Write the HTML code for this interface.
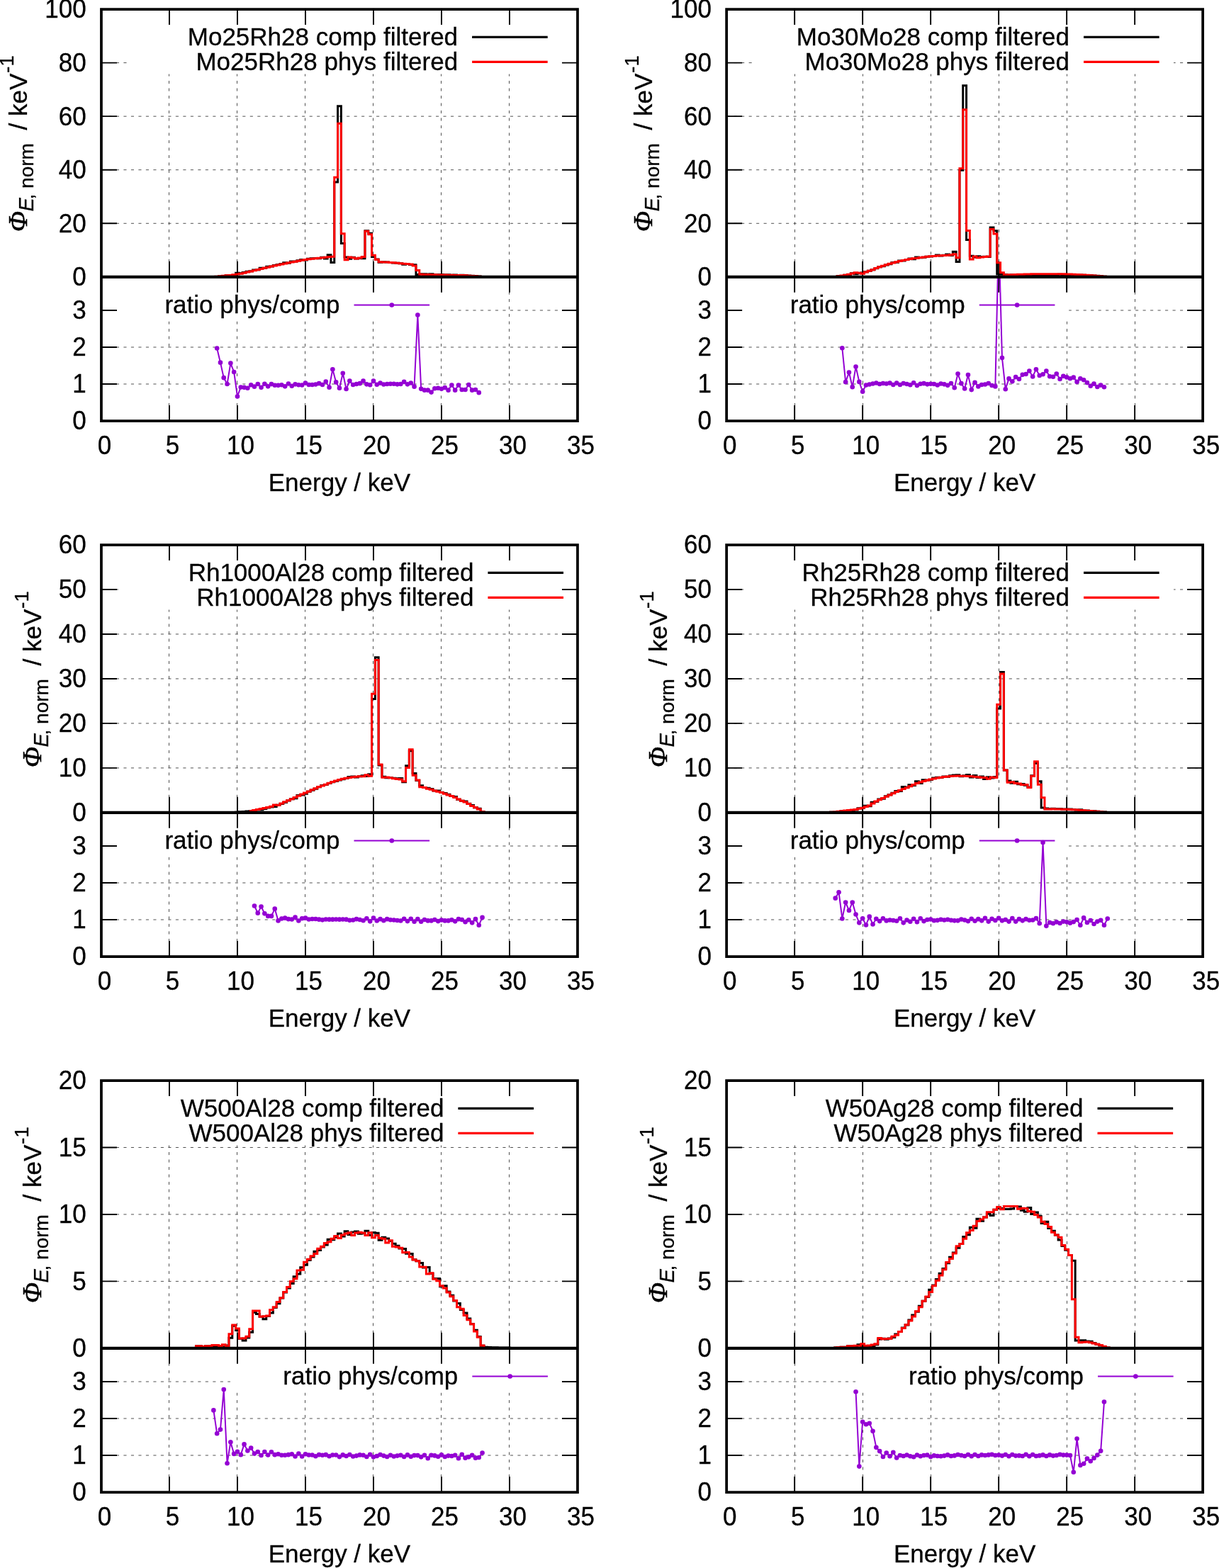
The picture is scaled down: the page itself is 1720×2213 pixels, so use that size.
<!DOCTYPE html>
<html lang="en">
<head>
<meta charset="utf-8">
<title>X-ray spectra: computed vs. physical filtering</title>
<style>html,body{margin:0;padding:0;background:#fff;}body{width:1720px;height:2213px;overflow:hidden;}svg{display:block;}</style>
</head>
<body>
<svg width="1720" height="2213" viewBox="0 0 1720 2213">
<rect width="1720" height="2213" fill="#fff"/>
<g id="p0">
<path d="M238.5,390.85 V13.04 M238.5,594 V390.85 M334.5,390.85 V13.04 M334.5,594 V390.85 M430.5,390.85 V13.04 M430.5,594 V390.85 M526.5,390.85 V13.04 M526.5,594 V390.85 M622.5,390.85 V13.04 M622.5,594 V390.85 M718.5,390.85 V13.04 M718.5,594 V390.85 M142.95,315.29 H814.95 M142.95,239.73 H814.95 M142.95,164.16 H814.95 M142.95,88.6 H814.95 M142.95,542 H814.95 M142.95,490 H814.95 M142.95,438 H814.95" fill="none" stroke="#3c3c3c" stroke-width="0.9" stroke-dasharray="4.1 6.39"/>
<rect x="179.95" y="15.04" width="613.15" height="89.5" fill="#fff"/>
<rect x="158.95" y="392.85" width="467" height="60.7" fill="#fff"/>
<path d="M238.95,13.04 v22 M238.95,368.85 v44 M238.95,594 v-22 M334.95,13.04 v22 M334.95,368.85 v44 M334.95,594 v-22 M430.95,13.04 v22 M430.95,368.85 v44 M430.95,594 v-22 M526.95,13.04 v22 M526.95,368.85 v44 M526.95,594 v-22 M622.95,13.04 v22 M622.95,368.85 v44 M622.95,594 v-22 M718.95,13.04 v22 M718.95,368.85 v44 M718.95,594 v-22 M142.95,315.29 h22 M814.95,315.29 h-22 M142.95,239.73 h22 M814.95,239.73 h-22 M142.95,164.16 h22 M814.95,164.16 h-22 M142.95,88.6 h22 M814.95,88.6 h-22 M142.95,542 h22 M814.95,542 h-22 M142.95,490 h22 M814.95,490 h-22 M142.95,438 h22 M814.95,438 h-22" fill="none" stroke="#000" stroke-width="1.9"/>
<clipPath id="cm0"><rect x="142.95" y="13.04" width="672" height="379.31"/></clipPath>
<g clip-path="url(#cm0)" fill="none" stroke-width="3" stroke-linejoin="miter">
<path d="M274.95,390.85 L279.75,390.85 L279.75,390.82 L284.55,390.82 L284.55,390.8 L289.35,390.8 L289.35,390.77 L294.15,390.77 L294.15,390.66 L298.95,390.66 L298.95,390.47 L303.75,390.47 L303.75,390.56 L308.55,390.56 L308.55,390.19 L313.35,390.19 L313.35,389.56 L318.15,389.56 L318.15,388.87 L322.95,388.87 L322.95,389.28 L327.75,389.28 L327.75,388.5 L332.55,388.5 L332.55,385.16 L337.35,385.16 L337.35,385.68 L342.15,385.68 L342.15,384.6 L346.95,384.6 L346.95,383.21 L351.75,383.21 L351.75,382.71 L356.55,382.71 L356.55,381.1 L361.35,381.1 L361.35,380.65 L366.15,380.65 L366.15,378.25 L370.95,378.25 L370.95,378.26 L375.75,378.26 L375.75,376.22 L380.55,376.22 L380.55,376.09 L385.35,376.09 L385.35,374.52 L390.15,374.52 L390.15,373.41 L394.95,373.41 L394.95,372.54 L399.75,372.54 L399.75,370.67 L404.55,370.67 L404.55,371.21 L409.35,371.21 L409.35,368.93 L414.15,368.93 L414.15,368.97 L418.95,368.97 L418.95,367.65 L423.75,367.65 L423.75,366.6 L428.55,366.6 L428.55,367.12 L433.35,367.12 L433.35,365.31 L438.15,365.31 L438.15,364.63 L442.95,364.63 L442.95,364.42 L447.75,364.42 L447.75,364.63 L452.55,364.63 L452.55,363.19 L457.35,363.19 L457.35,364.98 L462.15,364.98 L462.15,359.71 L466.95,359.71 L466.95,370.47 L471.75,370.47 L471.75,257 L476.55,257 L476.55,149.81 L481.35,149.81 L481.35,343.51 L486.15,343.51 L486.15,363.08 L490.95,363.08 L490.95,365.23 L495.75,365.23 L495.75,363.28 L500.55,363.28 L500.55,364.97 L505.35,364.97 L505.35,364.45 L510.15,364.45 L510.15,364.71 L514.95,364.71 L514.95,325.79 L519.75,325.79 L519.75,329.37 L524.55,329.37 L524.55,362.62 L529.35,362.62 L529.35,365.94 L534.15,365.94 L534.15,370.25 L538.95,370.25 L538.95,369.65 L543.75,369.65 L543.75,370.07 L548.55,370.07 L548.55,370.55 L553.35,370.55 L553.35,370.92 L558.15,370.92 L558.15,371.16 L562.95,371.16 L562.95,371.77 L567.75,371.77 L567.75,373.21 L572.55,373.21 L572.55,372.4 L577.35,372.4 L577.35,373.61 L582.15,373.61 L582.15,373.79 L586.95,373.79 L586.95,387.56 L591.75,387.56 L591.75,386.85 L596.55,386.85 L596.55,386.81 L601.35,386.81 L601.35,386.94 L606.15,386.94 L606.15,386.79 L610.95,386.79 L610.95,387.39 L615.75,387.39 L615.75,387.54 L620.55,387.54 L620.55,387.59 L625.35,387.59 L625.35,387.81 L630.15,387.81 L630.15,387.68 L634.95,387.68 L634.95,388.22 L639.75,388.22 L639.75,387.91 L644.55,387.91 L644.55,388.42 L649.35,388.42 L649.35,388.17 L654.15,388.17 L654.15,388.5 L658.95,388.5 L658.95,389.12 L663.75,389.12 L663.75,389.15 L668.55,389.15 L668.55,389.51 L673.35,389.51 L673.35,389.99 L678.15,389.99 L678.15,390.66 L682.95,390.66 L682.95,390.85 L687.75,390.85" stroke="#000"/>
<path d="M274.95,390.85 L279.75,390.85 L279.75,390.82 L284.55,390.82 L284.55,390.8 L289.35,390.8 L289.35,390.77 L294.15,390.77 L294.15,390.66 L298.95,390.66 L298.95,390.47 L303.75,390.47 L303.75,390.28 L308.55,390.28 L308.55,389.81 L313.35,389.81 L313.35,389.34 L318.15,389.34 L318.15,388.87 L322.95,388.87 L322.95,388.39 L327.75,388.39 L327.75,387.73 L332.55,387.73 L332.55,387.07 L337.35,387.07 L337.35,386.13 L342.15,386.13 L342.15,385.18 L346.95,385.18 L346.95,384.05 L351.75,384.05 L351.75,382.92 L356.55,382.92 L356.55,381.78 L361.35,381.78 L361.35,380.65 L366.15,380.65 L366.15,379.42 L370.95,379.42 L370.95,378.19 L375.75,378.19 L375.75,377.15 L380.55,377.15 L380.55,376.12 L385.35,376.12 L385.35,375.08 L390.15,375.08 L390.15,374.04 L394.95,374.04 L394.95,373 L399.75,373 L399.75,371.96 L404.55,371.96 L404.55,371.01 L409.35,371.01 L409.35,370.07 L414.15,370.07 L414.15,369.13 L418.95,369.13 L418.95,368.18 L423.75,368.18 L423.75,367.33 L428.55,367.33 L428.55,366.48 L433.35,366.48 L433.35,365.82 L438.15,365.82 L438.15,365.16 L442.95,365.16 L442.95,364.69 L447.75,364.69 L447.75,364.21 L452.55,364.21 L452.55,363.74 L457.35,363.74 L457.35,363.27 L462.15,363.27 L462.15,362.51 L466.95,362.51 L466.95,362.33 L471.75,362.33 L471.75,250.3 L476.55,250.3 L476.55,174.36 L481.35,174.36 L481.35,329.64 L486.15,329.64 L486.15,366.86 L490.95,366.86 L490.95,363.08 L495.75,363.08 L495.75,363.84 L500.55,363.84 L500.55,364.97 L505.35,364.97 L505.35,364.03 L510.15,364.03 L510.15,362.51 L514.95,362.51 L514.95,326.24 L519.75,326.24 L519.75,330.78 L524.55,330.78 L524.55,360.25 L529.35,360.25 L529.35,366.29 L534.15,366.29 L534.15,369.69 L538.95,369.69 L538.95,369.88 L543.75,369.88 L543.75,370.07 L548.55,370.07 L548.55,370.45 L553.35,370.45 L553.35,370.83 L558.15,370.83 L558.15,371.3 L562.95,371.3 L562.95,371.77 L567.75,371.77 L567.75,372.15 L572.55,372.15 L572.55,372.53 L577.35,372.53 L577.35,373.09 L582.15,373.09 L582.15,374.98 L586.95,374.98 L586.95,381.4 L591.75,381.4 L591.75,387.37 L596.55,387.37 L596.55,387.48 L601.35,387.48 L601.35,387.59 L606.15,387.59 L606.15,387.7 L610.95,387.7 L610.95,387.8 L615.75,387.8 L615.75,387.91 L620.55,387.91 L620.55,388.02 L625.35,388.02 L625.35,388.11 L630.15,388.11 L630.15,388.21 L634.95,388.21 L634.95,388.3 L639.75,388.3 L639.75,388.39 L644.55,388.39 L644.55,388.49 L649.35,388.49 L649.35,388.58 L654.15,388.58 L654.15,388.87 L658.95,388.87 L658.95,389.15 L663.75,389.15 L663.75,389.43 L668.55,389.43 L668.55,389.72 L673.35,389.72 L673.35,390.19 L678.15,390.19 L678.15,390.66 L682.95,390.66 L682.95,390.85 L687.75,390.85" stroke="#ff0000"/>
</g>
<g font-family='"Liberation Sans", sans-serif' font-size="35" fill="#000" stroke="#000" stroke-width="0.3">
<text x="646.1" y="64.04" text-anchor="end">Mo25Rh28 comp filtered</text>
<text x="646.1" y="99.04" text-anchor="end">Mo25Rh28 phys filtered</text>
</g>
<path d="M666.1,52.44 H772.7" stroke="#000" stroke-width="3.3"/>
<path d="M666.1,87.44 H772.7" stroke="#ff0000" stroke-width="3.3"/>
<g font-family='"Liberation Sans", sans-serif' font-size="35" fill="#000" stroke="#000" stroke-width="0.3"><text x="479.5" y="442.15" text-anchor="end">ratio phys/comp</text></g>
<path d="M499.5,430.55 H606.1" stroke="#9400d3" stroke-width="2.0"/>
<circle cx="552.8" cy="430.55" r="3.3" fill="#9400d3"/>
<clipPath id="cr0"><rect x="142.95" y="390.85" width="672" height="203.15"/></clipPath>
<g clip-path="url(#cr0)">
<path d="M306.15,491.56 L310.95,511.63 L315.75,533.16 L320.55,542 L325.35,512.57 L330.15,525 L334.95,559.47 L339.75,546.47 L344.55,546.84 L349.35,547.72 L354.15,543.3 L358.95,545.64 L363.75,542 L368.55,546.84 L373.35,541.74 L378.15,545.33 L382.95,542.1 L387.75,543.77 L392.55,543.87 L397.35,543.3 L402.15,545.33 L406.95,541.48 L411.75,544.7 L416.55,542.36 L421.35,543.2 L426.15,543.56 L430.95,540.6 L435.75,543.04 L440.55,543.04 L445.35,542.52 L450.15,541.17 L454.95,543.04 L459.75,538.57 L464.55,546.68 L469.35,521.2 L474.15,539.4 L478.95,547.72 L483.75,526.76 L488.55,549.07 L493.35,537.63 L498.15,543.04 L502.95,542 L507.75,541.17 L512.55,537.63 L517.35,542.36 L522.15,543.2 L526.95,537.63 L531.75,542.73 L536.55,540.6 L541.35,542.57 L546.15,542 L550.95,541.74 L555.75,541.74 L560.55,542.36 L565.35,542 L570.15,538.88 L574.95,542.36 L579.75,540.44 L584.55,545.64 L589.35,444.6 L594.15,548.86 L598.95,550.63 L603.75,550.63 L608.55,553.6 L613.35,548.24 L618.15,547.72 L622.95,548.86 L627.75,547.1 L632.55,550.63 L637.35,543.56 L642.15,550.63 L646.95,543.56 L651.75,550.06 L656.55,550.06 L661.35,543.04 L666.15,550.63 L670.95,550.06 L675.75,554.17" fill="none" stroke="#9400d3" stroke-width="2.0" stroke-linejoin="round"/>
<g fill="#9400d3"><circle cx="306.15" cy="491.56" r="3.3"/><circle cx="310.95" cy="511.63" r="3.3"/><circle cx="315.75" cy="533.16" r="3.3"/><circle cx="320.55" cy="542" r="3.3"/><circle cx="325.35" cy="512.57" r="3.3"/><circle cx="330.15" cy="525" r="3.3"/><circle cx="334.95" cy="559.47" r="3.3"/><circle cx="339.75" cy="546.47" r="3.3"/><circle cx="344.55" cy="546.84" r="3.3"/><circle cx="349.35" cy="547.72" r="3.3"/><circle cx="354.15" cy="543.3" r="3.3"/><circle cx="358.95" cy="545.64" r="3.3"/><circle cx="363.75" cy="542" r="3.3"/><circle cx="368.55" cy="546.84" r="3.3"/><circle cx="373.35" cy="541.74" r="3.3"/><circle cx="378.15" cy="545.33" r="3.3"/><circle cx="382.95" cy="542.1" r="3.3"/><circle cx="387.75" cy="543.77" r="3.3"/><circle cx="392.55" cy="543.87" r="3.3"/><circle cx="397.35" cy="543.3" r="3.3"/><circle cx="402.15" cy="545.33" r="3.3"/><circle cx="406.95" cy="541.48" r="3.3"/><circle cx="411.75" cy="544.7" r="3.3"/><circle cx="416.55" cy="542.36" r="3.3"/><circle cx="421.35" cy="543.2" r="3.3"/><circle cx="426.15" cy="543.56" r="3.3"/><circle cx="430.95" cy="540.6" r="3.3"/><circle cx="435.75" cy="543.04" r="3.3"/><circle cx="440.55" cy="543.04" r="3.3"/><circle cx="445.35" cy="542.52" r="3.3"/><circle cx="450.15" cy="541.17" r="3.3"/><circle cx="454.95" cy="543.04" r="3.3"/><circle cx="459.75" cy="538.57" r="3.3"/><circle cx="464.55" cy="546.68" r="3.3"/><circle cx="469.35" cy="521.2" r="3.3"/><circle cx="474.15" cy="539.4" r="3.3"/><circle cx="478.95" cy="547.72" r="3.3"/><circle cx="483.75" cy="526.76" r="3.3"/><circle cx="488.55" cy="549.07" r="3.3"/><circle cx="493.35" cy="537.63" r="3.3"/><circle cx="498.15" cy="543.04" r="3.3"/><circle cx="502.95" cy="542" r="3.3"/><circle cx="507.75" cy="541.17" r="3.3"/><circle cx="512.55" cy="537.63" r="3.3"/><circle cx="517.35" cy="542.36" r="3.3"/><circle cx="522.15" cy="543.2" r="3.3"/><circle cx="526.95" cy="537.63" r="3.3"/><circle cx="531.75" cy="542.73" r="3.3"/><circle cx="536.55" cy="540.6" r="3.3"/><circle cx="541.35" cy="542.57" r="3.3"/><circle cx="546.15" cy="542" r="3.3"/><circle cx="550.95" cy="541.74" r="3.3"/><circle cx="555.75" cy="541.74" r="3.3"/><circle cx="560.55" cy="542.36" r="3.3"/><circle cx="565.35" cy="542" r="3.3"/><circle cx="570.15" cy="538.88" r="3.3"/><circle cx="574.95" cy="542.36" r="3.3"/><circle cx="579.75" cy="540.44" r="3.3"/><circle cx="584.55" cy="545.64" r="3.3"/><circle cx="589.35" cy="444.6" r="3.3"/><circle cx="594.15" cy="548.86" r="3.3"/><circle cx="598.95" cy="550.63" r="3.3"/><circle cx="603.75" cy="550.63" r="3.3"/><circle cx="608.55" cy="553.6" r="3.3"/><circle cx="613.35" cy="548.24" r="3.3"/><circle cx="618.15" cy="547.72" r="3.3"/><circle cx="622.95" cy="548.86" r="3.3"/><circle cx="627.75" cy="547.1" r="3.3"/><circle cx="632.55" cy="550.63" r="3.3"/><circle cx="637.35" cy="543.56" r="3.3"/><circle cx="642.15" cy="550.63" r="3.3"/><circle cx="646.95" cy="543.56" r="3.3"/><circle cx="651.75" cy="550.06" r="3.3"/><circle cx="656.55" cy="550.06" r="3.3"/><circle cx="661.35" cy="543.04" r="3.3"/><circle cx="666.15" cy="550.63" r="3.3"/><circle cx="670.95" cy="550.06" r="3.3"/><circle cx="675.75" cy="554.17" r="3.3"/></g>
</g>
<path d="M142.95,13.04 H814.95 V594 H142.95 Z" fill="none" stroke="#000" stroke-width="3.75" stroke-linejoin="miter"/>
<path d="M142.95,390.85 H814.95" fill="none" stroke="#000" stroke-width="4.2"/>
<g font-family='"Liberation Sans", sans-serif' font-size="35" fill="#000" stroke="#000" stroke-width="0.3">
<text transform="translate(121.75 403.3) scale(1 1.05)" text-anchor="end">0</text>
<text transform="translate(121.75 327.74) scale(1 1.05)" text-anchor="end">20</text>
<text transform="translate(121.75 252.18) scale(1 1.05)" text-anchor="end">40</text>
<text transform="translate(121.75 176.61) scale(1 1.05)" text-anchor="end">60</text>
<text transform="translate(121.75 101.05) scale(1 1.05)" text-anchor="end">80</text>
<text transform="translate(121.75 25.49) scale(1 1.05)" text-anchor="end">100</text>
<text transform="translate(121.75 606.45) scale(1 1.05)" text-anchor="end">0</text>
<text transform="translate(121.75 554.45) scale(1 1.05)" text-anchor="end">1</text>
<text transform="translate(121.75 502.45) scale(1 1.05)" text-anchor="end">2</text>
<text transform="translate(121.75 450.45) scale(1 1.05)" text-anchor="end">3</text>
<text transform="translate(147.55 641.1) scale(1 1.05)" text-anchor="middle">0</text>
<text transform="translate(243.55 641.1) scale(1 1.05)" text-anchor="middle">5</text>
<text transform="translate(339.55 641.1) scale(1 1.05)" text-anchor="middle">10</text>
<text transform="translate(435.55 641.1) scale(1 1.05)" text-anchor="middle">15</text>
<text transform="translate(531.55 641.1) scale(1 1.05)" text-anchor="middle">20</text>
<text transform="translate(627.55 641.1) scale(1 1.05)" text-anchor="middle">25</text>
<text transform="translate(723.55 641.1) scale(1 1.05)" text-anchor="middle">30</text>
<text transform="translate(819.55 641.1) scale(1 1.05)" text-anchor="middle">35</text>
<text x="478.95" y="693.15" text-anchor="middle">Energy / keV</text>
</g>
<text transform="translate(37.55,326.95) rotate(-90)" font-family='"Liberation Sans", sans-serif' font-size="35" fill="#000" stroke="#000" stroke-width="0.3"><tspan font-family='"Liberation Serif", serif' font-style="italic" font-size="38" stroke-width="0.6">Φ</tspan><tspan font-style="italic" font-size="29" dy="9.9" dx="-0.4">E</tspan><tspan font-size="28" dx="-2.4">, norm</tspan><tspan dy="-9.9" dx="9"> / keV</tspan><tspan font-size="28" dy="-18.8" dx="0.6">-1</tspan></text>
</g>
<g id="p1">
<path d="M1121.5,390.85 V13.04 M1121.5,594 V390.85 M1217.5,390.85 V13.04 M1217.5,594 V390.85 M1313.5,390.85 V13.04 M1313.5,594 V390.85 M1409.5,390.85 V13.04 M1409.5,594 V390.85 M1505.5,390.85 V13.04 M1505.5,594 V390.85 M1601.5,390.85 V13.04 M1601.5,594 V390.85 M1025.15,315.29 H1697.15 M1025.15,239.73 H1697.15 M1025.15,164.16 H1697.15 M1025.15,88.6 H1697.15 M1025.15,542 H1697.15 M1025.15,490 H1697.15 M1025.15,438 H1697.15" fill="none" stroke="#3c3c3c" stroke-width="0.9" stroke-dasharray="4.1 6.39"/>
<rect x="1062.15" y="15.04" width="593.9" height="89.5" fill="#fff"/>
<rect x="1041.15" y="392.85" width="467" height="60.7" fill="#fff"/>
<path d="M1121.15,13.04 v22 M1121.15,368.85 v44 M1121.15,594 v-22 M1217.15,13.04 v22 M1217.15,368.85 v44 M1217.15,594 v-22 M1313.15,13.04 v22 M1313.15,368.85 v44 M1313.15,594 v-22 M1409.15,13.04 v22 M1409.15,368.85 v44 M1409.15,594 v-22 M1505.15,13.04 v22 M1505.15,368.85 v44 M1505.15,594 v-22 M1601.15,13.04 v22 M1601.15,368.85 v44 M1601.15,594 v-22 M1025.15,315.29 h22 M1697.15,315.29 h-22 M1025.15,239.73 h22 M1697.15,239.73 h-22 M1025.15,164.16 h22 M1697.15,164.16 h-22 M1025.15,88.6 h22 M1697.15,88.6 h-22 M1025.15,542 h22 M1697.15,542 h-22 M1025.15,490 h22 M1697.15,490 h-22 M1025.15,438 h22 M1697.15,438 h-22" fill="none" stroke="#000" stroke-width="1.9"/>
<clipPath id="cm1"><rect x="1025.15" y="13.04" width="672" height="379.31"/></clipPath>
<g clip-path="url(#cm1)" fill="none" stroke-width="3" stroke-linejoin="miter">
<path d="M1157.15,390.85 L1161.95,390.85 L1161.95,390.81 L1166.75,390.81 L1166.75,390.77 L1171.55,390.77 L1171.55,390.74 L1176.35,390.74 L1176.35,390.47 L1181.15,390.47 L1181.15,389.72 L1185.95,389.72 L1185.95,389.89 L1190.75,389.89 L1190.75,388.29 L1195.55,388.29 L1195.55,388.18 L1200.35,388.18 L1200.35,385.66 L1205.15,385.66 L1205.15,386.74 L1209.95,386.74 L1209.95,385.68 L1214.75,385.68 L1214.75,384.9 L1219.55,384.9 L1219.55,383.84 L1224.35,383.84 L1224.35,382.25 L1229.15,382.25 L1229.15,380.74 L1233.95,380.74 L1233.95,378.74 L1238.75,378.74 L1238.75,376.87 L1243.55,376.87 L1243.55,375.66 L1248.35,375.66 L1248.35,374.02 L1253.15,374.02 L1253.15,372.82 L1257.95,372.82 L1257.95,370.61 L1262.75,370.61 L1262.75,370.25 L1267.55,370.25 L1267.55,368.11 L1272.35,368.11 L1272.35,367.89 L1277.15,367.89 L1277.15,366.48 L1281.95,366.48 L1281.95,364.89 L1286.75,364.89 L1286.75,365.69 L1291.55,365.69 L1291.55,363.02 L1296.35,363.02 L1296.35,363.65 L1301.15,363.65 L1301.15,363.33 L1305.95,363.33 L1305.95,362.13 L1310.75,362.13 L1310.75,361.9 L1315.55,361.9 L1315.55,361.38 L1320.35,361.38 L1320.35,360.08 L1325.15,360.08 L1325.15,361.02 L1329.95,361.02 L1329.95,360.22 L1334.75,360.22 L1334.75,359.01 L1339.55,359.01 L1339.55,360.48 L1344.35,360.48 L1344.35,355.17 L1349.15,355.17 L1349.15,369.55 L1353.95,369.55 L1353.95,240.25 L1358.75,240.25 L1358.75,120.72 L1363.55,120.72 L1363.55,338.48 L1368.35,338.48 L1368.35,361.31 L1373.15,361.31 L1373.15,363.06 L1377.95,363.06 L1377.95,361.75 L1382.75,361.75 L1382.75,362.51 L1387.55,362.51 L1387.55,362.23 L1392.35,362.23 L1392.35,362.51 L1397.15,362.51 L1397.15,320.94 L1401.95,320.94 L1401.95,325.79 L1406.75,325.79 L1406.75,386.92 L1411.55,386.92 L1411.55,387.31 L1416.35,387.31 L1416.35,387.43 L1421.15,387.43 L1421.15,388.16 L1425.95,388.16 L1425.95,387.85 L1430.75,387.85 L1430.75,388.01 L1435.55,388.01 L1435.55,387.72 L1440.35,387.72 L1440.35,387.88 L1445.15,387.88 L1445.15,387.79 L1449.95,387.79 L1449.95,387.94 L1454.75,387.94 L1454.75,387.54 L1459.55,387.54 L1459.55,387.97 L1464.35,387.97 L1464.35,387.53 L1469.15,387.53 L1469.15,387.63 L1473.95,387.63 L1473.95,387.86 L1478.75,387.86 L1478.75,387.51 L1483.55,387.51 L1483.55,387.49 L1488.35,387.49 L1488.35,387.72 L1493.15,387.72 L1493.15,387.33 L1497.95,387.33 L1497.95,387.57 L1502.75,387.57 L1502.75,387.5 L1507.55,387.5 L1507.55,387.56 L1512.35,387.56 L1512.35,387.81 L1517.15,387.81 L1517.15,387.64 L1521.95,387.64 L1521.95,388.06 L1526.75,388.06 L1526.75,388.25 L1531.55,388.25 L1531.55,388.39 L1536.35,388.39 L1536.35,388.5 L1541.15,388.5 L1541.15,388.97 L1545.95,388.97 L1545.95,389.28 L1550.75,389.28 L1550.75,389.81 L1555.55,389.81 L1555.55,390.23 L1560.35,390.23 L1560.35,390.74 L1565.15,390.74 L1565.15,390.85 L1569.95,390.85" stroke="#000"/>
<path d="M1157.15,390.85 L1161.95,390.85 L1161.95,390.81 L1166.75,390.81 L1166.75,390.77 L1171.55,390.77 L1171.55,390.74 L1176.35,390.74 L1176.35,390.47 L1181.15,390.47 L1181.15,389.72 L1185.95,389.72 L1185.95,388.96 L1190.75,388.96 L1190.75,388.15 L1195.55,388.15 L1195.55,387.34 L1200.35,387.34 L1200.35,386.07 L1205.15,386.07 L1205.15,384.81 L1209.95,384.81 L1209.95,385.37 L1214.75,385.37 L1214.75,386.13 L1219.55,386.13 L1219.55,384.05 L1224.35,384.05 L1224.35,382.35 L1229.15,382.35 L1229.15,380.65 L1233.95,380.65 L1233.95,378.38 L1238.75,378.38 L1238.75,376.87 L1243.55,376.87 L1243.55,375.36 L1248.35,375.36 L1248.35,373.85 L1253.15,373.85 L1253.15,372.34 L1257.95,372.34 L1257.95,371.01 L1262.75,371.01 L1262.75,369.69 L1267.55,369.69 L1267.55,368.56 L1272.35,368.56 L1272.35,367.43 L1277.15,367.43 L1277.15,366.48 L1281.95,366.48 L1281.95,365.54 L1286.75,365.54 L1286.75,364.84 L1291.55,364.84 L1291.55,364.14 L1296.35,364.14 L1296.35,363.52 L1301.15,363.52 L1301.15,362.89 L1305.95,362.89 L1305.95,362.33 L1310.75,362.33 L1310.75,361.76 L1315.55,361.76 L1315.55,361.38 L1320.35,361.38 L1320.35,361 L1325.15,361 L1325.15,360.72 L1329.95,360.72 L1329.95,360.44 L1334.75,360.44 L1334.75,360.15 L1339.55,360.15 L1339.55,359.87 L1344.35,359.87 L1344.35,358.74 L1349.15,358.74 L1349.15,363.65 L1353.95,363.65 L1353.95,237.84 L1358.75,237.84 L1358.75,154.72 L1363.55,154.72 L1363.55,325.49 L1368.35,325.49 L1368.35,365.91 L1373.15,365.91 L1373.15,361.95 L1377.95,361.95 L1377.95,363.65 L1382.75,363.65 L1382.75,363.08 L1387.55,363.08 L1387.55,362.51 L1392.35,362.51 L1392.35,361.95 L1397.15,361.95 L1397.15,323.6 L1401.95,323.6 L1401.95,330.02 L1406.75,330.02 L1406.75,370.83 L1411.55,370.83 L1411.55,384.81 L1416.35,384.81 L1416.35,387.9 L1421.15,387.9 L1421.15,387.77 L1425.95,387.77 L1425.95,387.64 L1430.75,387.64 L1430.75,387.47 L1435.55,387.47 L1435.55,387.3 L1440.35,387.3 L1440.35,387.13 L1445.15,387.13 L1445.15,386.96 L1449.95,386.96 L1449.95,386.91 L1454.75,386.91 L1454.75,386.86 L1459.55,386.86 L1459.55,386.81 L1464.35,386.81 L1464.35,386.77 L1469.15,386.77 L1469.15,386.78 L1473.95,386.78 L1473.95,386.8 L1478.75,386.8 L1478.75,386.81 L1483.55,386.81 L1483.55,386.83 L1488.35,386.83 L1488.35,386.84 L1493.15,386.84 L1493.15,386.85 L1497.95,386.85 L1497.95,386.87 L1502.75,386.87 L1502.75,386.88 L1507.55,386.88 L1507.55,387.07 L1512.35,387.07 L1512.35,387.26 L1517.15,387.26 L1517.15,387.45 L1521.95,387.45 L1521.95,387.64 L1526.75,387.64 L1526.75,387.97 L1531.55,387.97 L1531.55,388.3 L1536.35,388.3 L1536.35,388.63 L1541.15,388.63 L1541.15,388.96 L1545.95,388.96 L1545.95,389.4 L1550.75,389.4 L1550.75,389.84 L1555.55,389.84 L1555.55,390.28 L1560.35,390.28 L1560.35,390.74 L1565.15,390.74 L1565.15,390.85 L1569.95,390.85" stroke="#ff0000"/>
</g>
<g font-family='"Liberation Sans", sans-serif' font-size="35" fill="#000" stroke="#000" stroke-width="0.3">
<text x="1509.05" y="64.04" text-anchor="end">Mo30Mo28 comp filtered</text>
<text x="1509.05" y="99.04" text-anchor="end">Mo30Mo28 phys filtered</text>
</g>
<path d="M1529.05,52.44 H1635.65" stroke="#000" stroke-width="3.3"/>
<path d="M1529.05,87.44 H1635.65" stroke="#ff0000" stroke-width="3.3"/>
<g font-family='"Liberation Sans", sans-serif' font-size="35" fill="#000" stroke="#000" stroke-width="0.3"><text x="1361.8" y="442.15" text-anchor="end">ratio phys/comp</text></g>
<path d="M1381.8,430.55 H1488.4" stroke="#9400d3" stroke-width="2.0"/>
<circle cx="1435.1" cy="430.55" r="3.3" fill="#9400d3"/>
<clipPath id="cr1"><rect x="1025.15" y="390.85" width="672" height="203.15"/></clipPath>
<g clip-path="url(#cr1)">
<path d="M1188.35,491.2 L1193.15,539.14 L1197.95,525.57 L1202.75,546.16 L1207.55,517.56 L1212.35,538.88 L1217.15,552.76 L1221.95,543.56 L1226.75,542.57 L1231.55,541.53 L1236.35,540.44 L1241.15,542 L1245.95,540.96 L1250.75,541.48 L1255.55,540.6 L1260.35,543.04 L1265.15,540.6 L1269.95,543.04 L1274.75,540.96 L1279.55,542 L1284.35,543.3 L1289.15,540.23 L1293.95,544.08 L1298.75,541.74 L1303.55,541.17 L1308.35,542.36 L1313.15,541.74 L1317.95,542 L1322.75,543.56 L1327.55,541.48 L1332.35,542.36 L1337.15,543.87 L1341.95,540.96 L1346.75,547.2 L1351.55,527.6 L1356.35,541.17 L1361.15,548.5 L1365.95,529.1 L1370.75,550.11 L1375.55,539.92 L1380.35,545.38 L1385.15,543.04 L1389.95,542.52 L1394.75,540.96 L1399.55,543.98 L1404.35,545.38 L1409.15,328.8 L1413.95,505.08 L1418.75,549.18 L1423.55,534.41 L1428.35,538.36 L1433.15,532.12 L1437.95,534.98 L1442.75,528.84 L1447.55,527.96 L1452.35,523.54 L1457.15,531.44 L1461.95,521.2 L1466.75,530.04 L1471.55,528.27 L1476.35,523.54 L1481.15,531.24 L1485.95,531.81 L1490.75,527.44 L1495.55,534.98 L1500.35,530.87 L1505.15,532.38 L1509.95,534.2 L1514.75,532.64 L1519.55,538.88 L1524.35,534.2 L1529.15,536.28 L1533.95,540.08 L1538.75,544.81 L1543.55,541.64 L1548.35,546 L1553.15,543.61 L1557.95,546.32" fill="none" stroke="#9400d3" stroke-width="2.0" stroke-linejoin="round"/>
<g fill="#9400d3"><circle cx="1188.35" cy="491.2" r="3.3"/><circle cx="1193.15" cy="539.14" r="3.3"/><circle cx="1197.95" cy="525.57" r="3.3"/><circle cx="1202.75" cy="546.16" r="3.3"/><circle cx="1207.55" cy="517.56" r="3.3"/><circle cx="1212.35" cy="538.88" r="3.3"/><circle cx="1217.15" cy="552.76" r="3.3"/><circle cx="1221.95" cy="543.56" r="3.3"/><circle cx="1226.75" cy="542.57" r="3.3"/><circle cx="1231.55" cy="541.53" r="3.3"/><circle cx="1236.35" cy="540.44" r="3.3"/><circle cx="1241.15" cy="542" r="3.3"/><circle cx="1245.95" cy="540.96" r="3.3"/><circle cx="1250.75" cy="541.48" r="3.3"/><circle cx="1255.55" cy="540.6" r="3.3"/><circle cx="1260.35" cy="543.04" r="3.3"/><circle cx="1265.15" cy="540.6" r="3.3"/><circle cx="1269.95" cy="543.04" r="3.3"/><circle cx="1274.75" cy="540.96" r="3.3"/><circle cx="1279.55" cy="542" r="3.3"/><circle cx="1284.35" cy="543.3" r="3.3"/><circle cx="1289.15" cy="540.23" r="3.3"/><circle cx="1293.95" cy="544.08" r="3.3"/><circle cx="1298.75" cy="541.74" r="3.3"/><circle cx="1303.55" cy="541.17" r="3.3"/><circle cx="1308.35" cy="542.36" r="3.3"/><circle cx="1313.15" cy="541.74" r="3.3"/><circle cx="1317.95" cy="542" r="3.3"/><circle cx="1322.75" cy="543.56" r="3.3"/><circle cx="1327.55" cy="541.48" r="3.3"/><circle cx="1332.35" cy="542.36" r="3.3"/><circle cx="1337.15" cy="543.87" r="3.3"/><circle cx="1341.95" cy="540.96" r="3.3"/><circle cx="1346.75" cy="547.2" r="3.3"/><circle cx="1351.55" cy="527.6" r="3.3"/><circle cx="1356.35" cy="541.17" r="3.3"/><circle cx="1361.15" cy="548.5" r="3.3"/><circle cx="1365.95" cy="529.1" r="3.3"/><circle cx="1370.75" cy="550.11" r="3.3"/><circle cx="1375.55" cy="539.92" r="3.3"/><circle cx="1380.35" cy="545.38" r="3.3"/><circle cx="1385.15" cy="543.04" r="3.3"/><circle cx="1389.95" cy="542.52" r="3.3"/><circle cx="1394.75" cy="540.96" r="3.3"/><circle cx="1399.55" cy="543.98" r="3.3"/><circle cx="1404.35" cy="545.38" r="3.3"/><circle cx="1409.15" cy="328.8" r="3.3"/><circle cx="1413.95" cy="505.08" r="3.3"/><circle cx="1418.75" cy="549.18" r="3.3"/><circle cx="1423.55" cy="534.41" r="3.3"/><circle cx="1428.35" cy="538.36" r="3.3"/><circle cx="1433.15" cy="532.12" r="3.3"/><circle cx="1437.95" cy="534.98" r="3.3"/><circle cx="1442.75" cy="528.84" r="3.3"/><circle cx="1447.55" cy="527.96" r="3.3"/><circle cx="1452.35" cy="523.54" r="3.3"/><circle cx="1457.15" cy="531.44" r="3.3"/><circle cx="1461.95" cy="521.2" r="3.3"/><circle cx="1466.75" cy="530.04" r="3.3"/><circle cx="1471.55" cy="528.27" r="3.3"/><circle cx="1476.35" cy="523.54" r="3.3"/><circle cx="1481.15" cy="531.24" r="3.3"/><circle cx="1485.95" cy="531.81" r="3.3"/><circle cx="1490.75" cy="527.44" r="3.3"/><circle cx="1495.55" cy="534.98" r="3.3"/><circle cx="1500.35" cy="530.87" r="3.3"/><circle cx="1505.15" cy="532.38" r="3.3"/><circle cx="1509.95" cy="534.2" r="3.3"/><circle cx="1514.75" cy="532.64" r="3.3"/><circle cx="1519.55" cy="538.88" r="3.3"/><circle cx="1524.35" cy="534.2" r="3.3"/><circle cx="1529.15" cy="536.28" r="3.3"/><circle cx="1533.95" cy="540.08" r="3.3"/><circle cx="1538.75" cy="544.81" r="3.3"/><circle cx="1543.55" cy="541.64" r="3.3"/><circle cx="1548.35" cy="546" r="3.3"/><circle cx="1553.15" cy="543.61" r="3.3"/><circle cx="1557.95" cy="546.32" r="3.3"/></g>
</g>
<path d="M1025.15,13.04 H1697.15 V594 H1025.15 Z" fill="none" stroke="#000" stroke-width="3.75" stroke-linejoin="miter"/>
<path d="M1025.15,390.85 H1697.15" fill="none" stroke="#000" stroke-width="4.2"/>
<g font-family='"Liberation Sans", sans-serif' font-size="35" fill="#000" stroke="#000" stroke-width="0.3">
<text transform="translate(1003.95 403.3) scale(1 1.05)" text-anchor="end">0</text>
<text transform="translate(1003.95 327.74) scale(1 1.05)" text-anchor="end">20</text>
<text transform="translate(1003.95 252.18) scale(1 1.05)" text-anchor="end">40</text>
<text transform="translate(1003.95 176.61) scale(1 1.05)" text-anchor="end">60</text>
<text transform="translate(1003.95 101.05) scale(1 1.05)" text-anchor="end">80</text>
<text transform="translate(1003.95 25.49) scale(1 1.05)" text-anchor="end">100</text>
<text transform="translate(1003.95 606.45) scale(1 1.05)" text-anchor="end">0</text>
<text transform="translate(1003.95 554.45) scale(1 1.05)" text-anchor="end">1</text>
<text transform="translate(1003.95 502.45) scale(1 1.05)" text-anchor="end">2</text>
<text transform="translate(1003.95 450.45) scale(1 1.05)" text-anchor="end">3</text>
<text transform="translate(1029.75 641.1) scale(1 1.05)" text-anchor="middle">0</text>
<text transform="translate(1125.75 641.1) scale(1 1.05)" text-anchor="middle">5</text>
<text transform="translate(1221.75 641.1) scale(1 1.05)" text-anchor="middle">10</text>
<text transform="translate(1317.75 641.1) scale(1 1.05)" text-anchor="middle">15</text>
<text transform="translate(1413.75 641.1) scale(1 1.05)" text-anchor="middle">20</text>
<text transform="translate(1509.75 641.1) scale(1 1.05)" text-anchor="middle">25</text>
<text transform="translate(1605.75 641.1) scale(1 1.05)" text-anchor="middle">30</text>
<text transform="translate(1701.75 641.1) scale(1 1.05)" text-anchor="middle">35</text>
<text x="1361.15" y="693.15" text-anchor="middle">Energy / keV</text>
</g>
<text transform="translate(919.75,326.95) rotate(-90)" font-family='"Liberation Sans", sans-serif' font-size="35" fill="#000" stroke="#000" stroke-width="0.3"><tspan font-family='"Liberation Serif", serif' font-style="italic" font-size="38" stroke-width="0.6">Φ</tspan><tspan font-style="italic" font-size="29" dy="9.9" dx="-0.4">E</tspan><tspan font-size="28" dx="-2.4">, norm</tspan><tspan dy="-9.9" dx="9"> / keV</tspan><tspan font-size="28" dy="-18.8" dx="0.6">-1</tspan></text>
</g>
<g id="p2">
<path d="M238.5,1146.85 V769.04 M238.5,1350 V1146.85 M334.5,1146.85 V769.04 M334.5,1350 V1146.85 M430.5,1146.85 V769.04 M430.5,1350 V1146.85 M526.5,1146.85 V769.04 M526.5,1350 V1146.85 M622.5,1146.85 V769.04 M622.5,1350 V1146.85 M718.5,1146.85 V769.04 M718.5,1350 V1146.85 M142.95,1083.88 H814.95 M142.95,1020.91 H814.95 M142.95,957.94 H814.95 M142.95,894.98 H814.95 M142.95,832.01 H814.95 M142.95,1298 H814.95 M142.95,1246 H814.95 M142.95,1194 H814.95" fill="none" stroke="#3c3c3c" stroke-width="0.9" stroke-dasharray="4.1 6.39"/>
<rect x="166.95" y="771.04" width="636" height="89.5" fill="#fff"/>
<rect x="158.95" y="1148.85" width="467" height="60.7" fill="#fff"/>
<path d="M238.95,769.04 v22 M238.95,1124.85 v44 M238.95,1350 v-22 M334.95,769.04 v22 M334.95,1124.85 v44 M334.95,1350 v-22 M430.95,769.04 v22 M430.95,1124.85 v44 M430.95,1350 v-22 M526.95,769.04 v22 M526.95,1124.85 v44 M526.95,1350 v-22 M622.95,769.04 v22 M622.95,1124.85 v44 M622.95,1350 v-22 M718.95,769.04 v22 M718.95,1124.85 v44 M718.95,1350 v-22 M142.95,1083.88 h22 M814.95,1083.88 h-22 M142.95,1020.91 h22 M814.95,1020.91 h-22 M142.95,957.94 h22 M814.95,957.94 h-22 M142.95,894.98 h22 M814.95,894.98 h-22 M142.95,832.01 h22 M814.95,832.01 h-22 M142.95,1298 h22 M814.95,1298 h-22 M142.95,1246 h22 M814.95,1246 h-22 M142.95,1194 h22 M814.95,1194 h-22" fill="none" stroke="#000" stroke-width="1.9"/>
<clipPath id="cm2"><rect x="142.95" y="769.04" width="672" height="379.31"/></clipPath>
<g clip-path="url(#cm2)" fill="none" stroke-width="3" stroke-linejoin="miter">
<path d="M322.95,1146.72 L327.75,1146.72 L327.75,1146.54 L332.55,1146.54 L332.55,1146.22 L337.35,1146.22 L337.35,1145.84 L342.15,1145.84 L342.15,1145.46 L346.95,1145.46 L346.95,1145.09 L351.75,1145.09 L351.75,1144.71 L356.55,1144.71 L356.55,1144.44 L361.35,1144.44 L361.35,1143.06 L366.15,1143.06 L366.15,1142.88 L370.95,1142.88 L370.95,1141.45 L375.75,1141.45 L375.75,1140.06 L380.55,1140.06 L380.55,1138.99 L385.35,1138.99 L385.35,1138.39 L390.15,1138.39 L390.15,1136.17 L394.95,1136.17 L394.95,1134.47 L399.75,1134.47 L399.75,1132.39 L404.55,1132.39 L404.55,1129.96 L409.35,1129.96 L409.35,1127.83 L414.15,1127.83 L414.15,1126.7 L418.95,1126.7 L418.95,1122.44 L423.75,1122.44 L423.75,1121.94 L428.55,1121.94 L428.55,1120.21 L433.35,1120.21 L433.35,1117.17 L438.15,1117.17 L438.15,1115.37 L442.95,1115.37 L442.95,1113.33 L447.75,1113.33 L447.75,1110.83 L452.55,1110.83 L452.55,1108.61 L457.35,1108.61 L457.35,1107.57 L462.15,1107.57 L462.15,1105.58 L466.95,1105.58 L466.95,1103.7 L471.75,1103.7 L471.75,1102.43 L476.55,1102.43 L476.55,1100.89 L481.35,1100.89 L481.35,1099.84 L486.15,1099.84 L486.15,1098.52 L490.95,1098.52 L490.95,1096.61 L495.75,1096.61 L495.75,1096.1 L500.55,1096.1 L500.55,1097.05 L505.35,1097.05 L505.35,1095.85 L510.15,1095.85 L510.15,1094.64 L514.95,1094.64 L514.95,1095.46 L519.75,1095.46 L519.75,1092.79 L524.55,1092.79 L524.55,986.56 L529.35,986.56 L529.35,927.72 L534.15,927.72 L534.15,1080.1 L538.95,1080.1 L538.95,1096.13 L543.75,1096.13 L543.75,1097.7 L548.55,1097.7 L548.55,1097.62 L553.35,1097.62 L553.35,1098.27 L558.15,1098.27 L558.15,1098.76 L562.95,1098.76 L562.95,1098.55 L567.75,1098.55 L567.75,1103.76 L572.55,1103.76 L572.55,1080.87 L577.35,1080.87 L577.35,1059.82 L582.15,1059.82 L582.15,1091.46 L586.95,1091.46 L586.95,1101.61 L591.75,1101.61 L591.75,1108.85 L596.55,1108.85 L596.55,1111.4 L601.35,1111.4 L601.35,1112.23 L606.15,1112.23 L606.15,1113.46 L610.95,1113.46 L610.95,1116.12 L615.75,1116.12 L615.75,1116.02 L620.55,1116.02 L620.55,1118.2 L625.35,1118.2 L625.35,1119.54 L630.15,1119.54 L630.15,1121.35 L634.95,1121.35 L634.95,1123.43 L639.75,1123.43 L639.75,1124.57 L644.55,1124.57 L644.55,1128.26 L649.35,1128.26 L649.35,1130.29 L654.15,1130.29 L654.15,1131.09 L658.95,1131.09 L658.95,1134.32 L663.75,1134.32 L663.75,1136.54 L668.55,1136.54 L668.55,1139.78 L673.35,1139.78 L673.35,1141.23 L678.15,1141.23 L678.15,1145.66 L682.95,1145.66 L682.95,1146.66 L687.75,1146.66" stroke="#000"/>
<path d="M351.75,1144.71 L356.55,1144.71 L356.55,1143.54 L361.35,1143.54 L361.35,1142.38 L366.15,1142.38 L366.15,1141.47 L370.95,1141.47 L370.95,1140.55 L375.75,1140.55 L375.75,1139.39 L380.55,1139.39 L380.55,1138.22 L385.35,1138.22 L385.35,1135.89 L390.15,1135.89 L390.15,1136.46 L394.95,1136.46 L394.95,1134.1 L399.75,1134.1 L399.75,1131.74 L404.55,1131.74 L404.55,1129.69 L409.35,1129.69 L409.35,1127.64 L414.15,1127.64 L414.15,1125.41 L418.95,1125.41 L418.95,1123.17 L423.75,1123.17 L423.75,1121.1 L428.55,1121.1 L428.55,1119.02 L433.35,1119.02 L433.35,1116.88 L438.15,1116.88 L438.15,1114.74 L442.95,1114.74 L442.95,1112.66 L447.75,1112.66 L447.75,1110.58 L452.55,1110.58 L452.55,1108.88 L457.35,1108.88 L457.35,1107.18 L462.15,1107.18 L462.15,1105.29 L466.95,1105.29 L466.95,1103.4 L471.75,1103.4 L471.75,1101.99 L476.55,1101.99 L476.55,1100.57 L481.35,1100.57 L481.35,1099.37 L486.15,1099.37 L486.15,1098.18 L490.95,1098.18 L490.95,1097.42 L495.75,1097.42 L495.75,1096.66 L500.55,1096.66 L500.55,1096.25 L505.35,1096.25 L505.35,1095.85 L510.15,1095.85 L510.15,1095.85 L514.95,1095.85 L514.95,1093.7 L519.75,1093.7 L519.75,1095.22 L524.55,1095.22 L524.55,979.35 L529.35,979.35 L529.35,931.5 L534.15,931.5 L534.15,1079.03 L538.95,1079.03 L538.95,1097.29 L543.75,1097.29 L543.75,1096.92 L548.55,1096.92 L548.55,1097.86 L553.35,1097.86 L553.35,1098.81 L558.15,1098.81 L558.15,1099.62 L562.95,1099.62 L562.95,1100 L567.75,1100 L567.75,1102.77 L572.55,1102.77 L572.55,1083.5 L577.35,1083.5 L577.35,1057.81 L582.15,1057.81 L582.15,1094.33 L586.95,1094.33 L586.95,1100.88 L591.75,1100.88 L591.75,1110.83 L596.55,1110.83 L596.55,1111.4 L601.35,1111.4 L601.35,1113.16 L606.15,1113.16 L606.15,1114.36 L610.95,1114.36 L610.95,1116.12 L615.75,1116.12 L615.75,1117.25 L620.55,1117.25 L620.55,1118.51 L625.35,1118.51 L625.35,1120.28 L630.15,1120.28 L630.15,1122.04 L634.95,1122.04 L634.95,1123.55 L639.75,1123.55 L639.75,1125.57 L644.55,1125.57 L644.55,1127.96 L649.35,1127.96 L649.35,1130.29 L654.15,1130.29 L654.15,1132.05 L658.95,1132.05 L658.95,1134.38 L663.75,1134.38 L663.75,1137.4 L668.55,1137.4 L668.55,1139.67 L673.35,1139.67 L673.35,1142.06 L678.15,1142.06 L678.15,1145.59 L682.95,1145.59 L682.95,1146.66 L687.75,1146.66" stroke="#ff0000"/>
</g>
<g font-family='"Liberation Sans", sans-serif' font-size="35" fill="#000" stroke="#000" stroke-width="0.3">
<text x="668.4" y="820.04" text-anchor="end">Rh1000Al28 comp filtered</text>
<text x="668.4" y="855.04" text-anchor="end">Rh1000Al28 phys filtered</text>
</g>
<path d="M688.4,808.44 H795" stroke="#000" stroke-width="3.3"/>
<path d="M688.4,843.44 H795" stroke="#ff0000" stroke-width="3.3"/>
<g font-family='"Liberation Sans", sans-serif' font-size="35" fill="#000" stroke="#000" stroke-width="0.3"><text x="479.5" y="1198.15" text-anchor="end">ratio phys/comp</text></g>
<path d="M499.5,1186.55 H606.1" stroke="#9400d3" stroke-width="2.0"/>
<circle cx="552.8" cy="1186.55" r="3.3" fill="#9400d3"/>
<clipPath id="cr2"><rect x="142.95" y="1146.85" width="672" height="203.15"/></clipPath>
<g clip-path="url(#cr2)">
<path d="M358.95,1278.5 L363.75,1288.64 L368.55,1279.44 L373.35,1289.37 L378.15,1292.9 L382.95,1292.9 L387.75,1282.66 L392.55,1299.4 L397.35,1296.44 L402.15,1295.66 L406.95,1297.17 L411.75,1297.48 L416.55,1294.67 L421.35,1299.56 L426.15,1296.23 L430.95,1295.66 L435.75,1297.48 L440.55,1296.96 L445.35,1296.96 L450.15,1297.64 L454.95,1298.36 L459.75,1297.48 L464.55,1297.64 L469.35,1297.64 L474.15,1297.48 L478.95,1297.64 L483.75,1297.48 L488.55,1297.64 L493.35,1298.83 L498.15,1298.57 L502.95,1297.17 L507.75,1298 L512.55,1299.2 L517.35,1296.23 L522.15,1300.34 L526.95,1295.66 L531.75,1299.56 L536.55,1297.17 L541.35,1299.2 L546.15,1297.17 L550.95,1298.26 L555.75,1298.57 L560.55,1298.94 L565.35,1299.56 L570.15,1296.8 L574.95,1300.08 L579.75,1296.8 L584.55,1300.7 L589.35,1297.17 L594.15,1300.7 L598.95,1298 L603.75,1299.4 L608.55,1299.4 L613.35,1298 L618.15,1300.08 L622.95,1298.57 L627.75,1299.4 L632.55,1299.4 L637.35,1298.26 L642.15,1300.34 L646.95,1297.17 L651.75,1298 L656.55,1301.17 L661.35,1298.26 L666.15,1302.37 L670.95,1297.17 L675.75,1305.7 L680.55,1294.88" fill="none" stroke="#9400d3" stroke-width="2.0" stroke-linejoin="round"/>
<g fill="#9400d3"><circle cx="358.95" cy="1278.5" r="3.3"/><circle cx="363.75" cy="1288.64" r="3.3"/><circle cx="368.55" cy="1279.44" r="3.3"/><circle cx="373.35" cy="1289.37" r="3.3"/><circle cx="378.15" cy="1292.9" r="3.3"/><circle cx="382.95" cy="1292.9" r="3.3"/><circle cx="387.75" cy="1282.66" r="3.3"/><circle cx="392.55" cy="1299.4" r="3.3"/><circle cx="397.35" cy="1296.44" r="3.3"/><circle cx="402.15" cy="1295.66" r="3.3"/><circle cx="406.95" cy="1297.17" r="3.3"/><circle cx="411.75" cy="1297.48" r="3.3"/><circle cx="416.55" cy="1294.67" r="3.3"/><circle cx="421.35" cy="1299.56" r="3.3"/><circle cx="426.15" cy="1296.23" r="3.3"/><circle cx="430.95" cy="1295.66" r="3.3"/><circle cx="435.75" cy="1297.48" r="3.3"/><circle cx="440.55" cy="1296.96" r="3.3"/><circle cx="445.35" cy="1296.96" r="3.3"/><circle cx="450.15" cy="1297.64" r="3.3"/><circle cx="454.95" cy="1298.36" r="3.3"/><circle cx="459.75" cy="1297.48" r="3.3"/><circle cx="464.55" cy="1297.64" r="3.3"/><circle cx="469.35" cy="1297.64" r="3.3"/><circle cx="474.15" cy="1297.48" r="3.3"/><circle cx="478.95" cy="1297.64" r="3.3"/><circle cx="483.75" cy="1297.48" r="3.3"/><circle cx="488.55" cy="1297.64" r="3.3"/><circle cx="493.35" cy="1298.83" r="3.3"/><circle cx="498.15" cy="1298.57" r="3.3"/><circle cx="502.95" cy="1297.17" r="3.3"/><circle cx="507.75" cy="1298" r="3.3"/><circle cx="512.55" cy="1299.2" r="3.3"/><circle cx="517.35" cy="1296.23" r="3.3"/><circle cx="522.15" cy="1300.34" r="3.3"/><circle cx="526.95" cy="1295.66" r="3.3"/><circle cx="531.75" cy="1299.56" r="3.3"/><circle cx="536.55" cy="1297.17" r="3.3"/><circle cx="541.35" cy="1299.2" r="3.3"/><circle cx="546.15" cy="1297.17" r="3.3"/><circle cx="550.95" cy="1298.26" r="3.3"/><circle cx="555.75" cy="1298.57" r="3.3"/><circle cx="560.55" cy="1298.94" r="3.3"/><circle cx="565.35" cy="1299.56" r="3.3"/><circle cx="570.15" cy="1296.8" r="3.3"/><circle cx="574.95" cy="1300.08" r="3.3"/><circle cx="579.75" cy="1296.8" r="3.3"/><circle cx="584.55" cy="1300.7" r="3.3"/><circle cx="589.35" cy="1297.17" r="3.3"/><circle cx="594.15" cy="1300.7" r="3.3"/><circle cx="598.95" cy="1298" r="3.3"/><circle cx="603.75" cy="1299.4" r="3.3"/><circle cx="608.55" cy="1299.4" r="3.3"/><circle cx="613.35" cy="1298" r="3.3"/><circle cx="618.15" cy="1300.08" r="3.3"/><circle cx="622.95" cy="1298.57" r="3.3"/><circle cx="627.75" cy="1299.4" r="3.3"/><circle cx="632.55" cy="1299.4" r="3.3"/><circle cx="637.35" cy="1298.26" r="3.3"/><circle cx="642.15" cy="1300.34" r="3.3"/><circle cx="646.95" cy="1297.17" r="3.3"/><circle cx="651.75" cy="1298" r="3.3"/><circle cx="656.55" cy="1301.17" r="3.3"/><circle cx="661.35" cy="1298.26" r="3.3"/><circle cx="666.15" cy="1302.37" r="3.3"/><circle cx="670.95" cy="1297.17" r="3.3"/><circle cx="675.75" cy="1305.7" r="3.3"/><circle cx="680.55" cy="1294.88" r="3.3"/></g>
</g>
<path d="M142.95,769.04 H814.95 V1350 H142.95 Z" fill="none" stroke="#000" stroke-width="3.75" stroke-linejoin="miter"/>
<path d="M142.95,1146.85 H814.95" fill="none" stroke="#000" stroke-width="4.2"/>
<g font-family='"Liberation Sans", sans-serif' font-size="35" fill="#000" stroke="#000" stroke-width="0.3">
<text transform="translate(121.75 1159.3) scale(1 1.05)" text-anchor="end">0</text>
<text transform="translate(121.75 1096.33) scale(1 1.05)" text-anchor="end">10</text>
<text transform="translate(121.75 1033.36) scale(1 1.05)" text-anchor="end">20</text>
<text transform="translate(121.75 970.39) scale(1 1.05)" text-anchor="end">30</text>
<text transform="translate(121.75 907.43) scale(1 1.05)" text-anchor="end">40</text>
<text transform="translate(121.75 844.46) scale(1 1.05)" text-anchor="end">50</text>
<text transform="translate(121.75 781.49) scale(1 1.05)" text-anchor="end">60</text>
<text transform="translate(121.75 1362.45) scale(1 1.05)" text-anchor="end">0</text>
<text transform="translate(121.75 1310.45) scale(1 1.05)" text-anchor="end">1</text>
<text transform="translate(121.75 1258.45) scale(1 1.05)" text-anchor="end">2</text>
<text transform="translate(121.75 1206.45) scale(1 1.05)" text-anchor="end">3</text>
<text transform="translate(147.55 1397.1) scale(1 1.05)" text-anchor="middle">0</text>
<text transform="translate(243.55 1397.1) scale(1 1.05)" text-anchor="middle">5</text>
<text transform="translate(339.55 1397.1) scale(1 1.05)" text-anchor="middle">10</text>
<text transform="translate(435.55 1397.1) scale(1 1.05)" text-anchor="middle">15</text>
<text transform="translate(531.55 1397.1) scale(1 1.05)" text-anchor="middle">20</text>
<text transform="translate(627.55 1397.1) scale(1 1.05)" text-anchor="middle">25</text>
<text transform="translate(723.55 1397.1) scale(1 1.05)" text-anchor="middle">30</text>
<text transform="translate(819.55 1397.1) scale(1 1.05)" text-anchor="middle">35</text>
<text x="478.95" y="1449.15" text-anchor="middle">Energy / keV</text>
</g>
<text transform="translate(58.45,1082.94) rotate(-90)" font-family='"Liberation Sans", sans-serif' font-size="35" fill="#000" stroke="#000" stroke-width="0.3"><tspan font-family='"Liberation Serif", serif' font-style="italic" font-size="38" stroke-width="0.6">Φ</tspan><tspan font-style="italic" font-size="29" dy="9.9" dx="-0.4">E</tspan><tspan font-size="28" dx="-2.4">, norm</tspan><tspan dy="-9.9" dx="9"> / keV</tspan><tspan font-size="28" dy="-18.8" dx="0.6">-1</tspan></text>
</g>
<g id="p3">
<path d="M1121.5,1146.85 V769.04 M1121.5,1350 V1146.85 M1217.5,1146.85 V769.04 M1217.5,1350 V1146.85 M1313.5,1146.85 V769.04 M1313.5,1350 V1146.85 M1409.5,1146.85 V769.04 M1409.5,1350 V1146.85 M1505.5,1146.85 V769.04 M1505.5,1350 V1146.85 M1601.5,1146.85 V769.04 M1601.5,1350 V1146.85 M1025.15,1083.88 H1697.15 M1025.15,1020.91 H1697.15 M1025.15,957.94 H1697.15 M1025.15,894.98 H1697.15 M1025.15,832.01 H1697.15 M1025.15,1298 H1697.15 M1025.15,1246 H1697.15 M1025.15,1194 H1697.15" fill="none" stroke="#3c3c3c" stroke-width="0.9" stroke-dasharray="4.1 6.39"/>
<rect x="1049.15" y="771.04" width="606.9" height="89.5" fill="#fff"/>
<rect x="1041.15" y="1148.85" width="467" height="60.7" fill="#fff"/>
<path d="M1121.15,769.04 v22 M1121.15,1124.85 v44 M1121.15,1350 v-22 M1217.15,769.04 v22 M1217.15,1124.85 v44 M1217.15,1350 v-22 M1313.15,769.04 v22 M1313.15,1124.85 v44 M1313.15,1350 v-22 M1409.15,769.04 v22 M1409.15,1124.85 v44 M1409.15,1350 v-22 M1505.15,769.04 v22 M1505.15,1124.85 v44 M1505.15,1350 v-22 M1601.15,769.04 v22 M1601.15,1124.85 v44 M1601.15,1350 v-22 M1025.15,1083.88 h22 M1697.15,1083.88 h-22 M1025.15,1020.91 h22 M1697.15,1020.91 h-22 M1025.15,957.94 h22 M1697.15,957.94 h-22 M1025.15,894.98 h22 M1697.15,894.98 h-22 M1025.15,832.01 h22 M1697.15,832.01 h-22 M1025.15,1298 h22 M1697.15,1298 h-22 M1025.15,1246 h22 M1697.15,1246 h-22 M1025.15,1194 h22 M1697.15,1194 h-22" fill="none" stroke="#000" stroke-width="1.9"/>
<clipPath id="cm3"><rect x="1025.15" y="769.04" width="672" height="379.31"/></clipPath>
<g clip-path="url(#cm3)" fill="none" stroke-width="3" stroke-linejoin="miter">
<path d="M1147.55,1146.85 L1152.35,1146.85 L1152.35,1146.79 L1157.15,1146.79 L1157.15,1146.72 L1161.95,1146.72 L1161.95,1146.55 L1166.75,1146.55 L1166.75,1146.38 L1171.55,1146.38 L1171.55,1146.2 L1176.35,1146.2 L1176.35,1146.33 L1181.15,1146.33 L1181.15,1146 L1185.95,1146 L1185.95,1144.77 L1190.75,1144.77 L1190.75,1144.94 L1195.55,1144.94 L1195.55,1144.08 L1200.35,1144.08 L1200.35,1144.15 L1205.15,1144.15 L1205.15,1142.94 L1209.95,1142.94 L1209.95,1140.77 L1214.75,1140.77 L1214.75,1140.4 L1219.55,1140.4 L1219.55,1137.19 L1224.35,1137.19 L1224.35,1137.73 L1229.15,1137.73 L1229.15,1132.2 L1233.95,1132.2 L1233.95,1131.46 L1238.75,1131.46 L1238.75,1128.09 L1243.55,1128.09 L1243.55,1127.24 L1248.35,1127.24 L1248.35,1123.68 L1253.15,1123.68 L1253.15,1121.76 L1257.95,1121.76 L1257.95,1119.28 L1262.75,1119.28 L1262.75,1116.47 L1267.55,1116.47 L1267.55,1116.58 L1272.35,1116.58 L1272.35,1110.56 L1277.15,1110.56 L1277.15,1111.26 L1281.95,1111.26 L1281.95,1107.66 L1286.75,1107.66 L1286.75,1108.5 L1291.55,1108.5 L1291.55,1102.86 L1296.35,1102.86 L1296.35,1105.47 L1301.15,1105.47 L1301.15,1100.74 L1305.95,1100.74 L1305.95,1101.29 L1310.75,1101.29 L1310.75,1100.47 L1315.55,1100.47 L1315.55,1097.9 L1320.35,1097.9 L1320.35,1097.26 L1325.15,1097.26 L1325.15,1097.51 L1329.95,1097.51 L1329.95,1095.91 L1334.75,1095.91 L1334.75,1096.22 L1339.55,1096.22 L1339.55,1094.74 L1344.35,1094.74 L1344.35,1093.9 L1349.15,1093.9 L1349.15,1093.71 L1353.95,1093.71 L1353.95,1095.66 L1358.75,1095.66 L1358.75,1094.69 L1363.55,1094.69 L1363.55,1093.39 L1368.35,1093.39 L1368.35,1097.04 L1373.15,1097.04 L1373.15,1094.54 L1377.95,1094.54 L1377.95,1097.58 L1382.75,1097.58 L1382.75,1095.88 L1387.55,1095.88 L1387.55,1099.5 L1392.35,1099.5 L1392.35,1096.74 L1397.15,1096.74 L1397.15,1098.09 L1401.95,1098.09 L1401.95,1096.6 L1406.75,1096.6 L1406.75,1000.03 L1411.55,1000.03 L1411.55,948.5 L1416.35,948.5 L1416.35,1086.9 L1421.15,1086.9 L1421.15,1102.04 L1425.95,1102.04 L1425.95,1105.22 L1430.75,1105.22 L1430.75,1103.3 L1435.55,1103.3 L1435.55,1106.75 L1440.35,1106.75 L1440.35,1106.58 L1445.15,1106.58 L1445.15,1108.24 L1449.95,1108.24 L1449.95,1110.9 L1454.75,1110.9 L1454.75,1094.63 L1459.55,1094.63 L1459.55,1077.14 L1464.35,1077.14 L1464.35,1102.84 L1469.15,1102.84 L1469.15,1140.04 L1473.95,1140.04 L1473.95,1141.01 L1478.75,1141.01 L1478.75,1141.5 L1483.55,1141.5 L1483.55,1141.25 L1488.35,1141.25 L1488.35,1141.57 L1493.15,1141.57 L1493.15,1141.49 L1497.95,1141.49 L1497.95,1141.88 L1502.75,1141.88 L1502.75,1141.94 L1507.55,1141.94 L1507.55,1142.08 L1512.35,1142.08 L1512.35,1142.5 L1517.15,1142.5 L1517.15,1143.1 L1521.95,1143.1 L1521.95,1142.85 L1526.75,1142.85 L1526.75,1143.94 L1531.55,1143.94 L1531.55,1143.92 L1536.35,1143.92 L1536.35,1144.51 L1541.15,1144.51 L1541.15,1144.72 L1545.95,1144.72 L1545.95,1145.29 L1550.75,1145.29 L1550.75,1145.77 L1555.55,1145.77 L1555.55,1146.04 L1560.35,1146.04 L1560.35,1146.54 L1565.15,1146.54 L1565.15,1146.85 L1569.95,1146.85" stroke="#000"/>
<path d="M1147.55,1146.85 L1152.35,1146.85 L1152.35,1146.79 L1157.15,1146.79 L1157.15,1146.72 L1161.95,1146.72 L1161.95,1146.55 L1166.75,1146.55 L1166.75,1146.38 L1171.55,1146.38 L1171.55,1146.2 L1176.35,1146.2 L1176.35,1146.03 L1181.15,1146.03 L1181.15,1145.37 L1185.95,1145.37 L1185.95,1144.71 L1190.75,1144.71 L1190.75,1144.05 L1195.55,1144.05 L1195.55,1143.39 L1200.35,1143.39 L1200.35,1142.88 L1205.15,1142.88 L1205.15,1142.38 L1209.95,1142.38 L1209.95,1141.28 L1214.75,1141.28 L1214.75,1140.18 L1219.55,1140.18 L1219.55,1138.57 L1224.35,1138.57 L1224.35,1136.96 L1229.15,1136.96 L1229.15,1134.04 L1233.95,1134.04 L1233.95,1131.11 L1238.75,1131.11 L1238.75,1128.84 L1243.55,1128.84 L1243.55,1126.57 L1248.35,1126.57 L1248.35,1124.31 L1253.15,1124.31 L1253.15,1122.04 L1257.95,1122.04 L1257.95,1119.77 L1262.75,1119.77 L1262.75,1117.51 L1267.55,1117.51 L1267.55,1115.55 L1272.35,1115.55 L1272.35,1113.6 L1277.15,1113.6 L1277.15,1111.65 L1281.95,1111.65 L1281.95,1109.7 L1286.75,1109.7 L1286.75,1107.62 L1291.55,1107.62 L1291.55,1105.54 L1296.35,1105.54 L1296.35,1104.06 L1301.15,1104.06 L1301.15,1102.58 L1305.95,1102.58 L1305.95,1101.29 L1310.75,1101.29 L1310.75,1100 L1315.55,1100 L1315.55,1099.03 L1320.35,1099.03 L1320.35,1098.05 L1325.15,1098.05 L1325.15,1097.26 L1329.95,1097.26 L1329.95,1096.48 L1334.75,1096.48 L1334.75,1095.97 L1339.55,1095.97 L1339.55,1095.47 L1344.35,1095.47 L1344.35,1095.28 L1349.15,1095.28 L1349.15,1095.09 L1353.95,1095.09 L1353.95,1095.15 L1358.75,1095.15 L1358.75,1095.22 L1363.55,1095.22 L1363.55,1095.53 L1368.35,1095.53 L1368.35,1095.85 L1373.15,1095.85 L1373.15,1096.32 L1377.95,1096.32 L1377.95,1096.79 L1382.75,1096.79 L1382.75,1097.2 L1387.55,1097.2 L1387.55,1097.61 L1392.35,1097.61 L1392.35,1099.25 L1397.15,1099.25 L1397.15,1096.92 L1401.95,1096.92 L1401.95,1097.61 L1406.75,1097.61 L1406.75,994.15 L1411.55,994.15 L1411.55,951.02 L1416.35,951.02 L1416.35,1086.9 L1421.15,1086.9 L1421.15,1104.28 L1425.95,1104.28 L1425.95,1103.72 L1430.75,1103.72 L1430.75,1105.48 L1435.55,1105.48 L1435.55,1106.11 L1440.35,1106.11 L1440.35,1107.62 L1445.15,1107.62 L1445.15,1107.62 L1449.95,1107.62 L1449.95,1111.4 L1454.75,1111.4 L1454.75,1095.15 L1459.55,1095.15 L1459.55,1074.63 L1464.35,1074.63 L1464.35,1107.24 L1469.15,1107.24 L1469.15,1125.76 L1473.95,1125.76 L1473.95,1142 L1478.75,1142 L1478.75,1141.91 L1483.55,1141.91 L1483.55,1141.81 L1488.35,1141.81 L1488.35,1141.91 L1493.15,1141.91 L1493.15,1142 L1497.95,1142 L1497.95,1142.13 L1502.75,1142.13 L1502.75,1142.25 L1507.55,1142.25 L1507.55,1142.51 L1512.35,1142.51 L1512.35,1142.76 L1517.15,1142.76 L1517.15,1143.1 L1521.95,1143.1 L1521.95,1143.45 L1526.75,1143.45 L1526.75,1143.8 L1531.55,1143.8 L1531.55,1144.14 L1536.35,1144.14 L1536.35,1144.55 L1541.15,1144.55 L1541.15,1144.96 L1545.95,1144.96 L1545.95,1145.37 L1550.75,1145.37 L1550.75,1145.78 L1555.55,1145.78 L1555.55,1146.16 L1560.35,1146.16 L1560.35,1146.54 L1565.15,1146.54 L1565.15,1146.85 L1569.95,1146.85" stroke="#ff0000"/>
</g>
<g font-family='"Liberation Sans", sans-serif' font-size="35" fill="#000" stroke="#000" stroke-width="0.3">
<text x="1509.05" y="820.04" text-anchor="end">Rh25Rh28 comp filtered</text>
<text x="1509.05" y="855.04" text-anchor="end">Rh25Rh28 phys filtered</text>
</g>
<path d="M1529.05,808.44 H1635.65" stroke="#000" stroke-width="3.3"/>
<path d="M1529.05,843.44 H1635.65" stroke="#ff0000" stroke-width="3.3"/>
<g font-family='"Liberation Sans", sans-serif' font-size="35" fill="#000" stroke="#000" stroke-width="0.3"><text x="1361.8" y="1198.15" text-anchor="end">ratio phys/comp</text></g>
<path d="M1381.8,1186.55 H1488.4" stroke="#9400d3" stroke-width="2.0"/>
<circle cx="1435.1" cy="1186.55" r="3.3" fill="#9400d3"/>
<clipPath id="cr3"><rect x="1025.15" y="1146.85" width="672" height="203.15"/></clipPath>
<g clip-path="url(#cr3)">
<path d="M1178.75,1267.63 L1183.55,1259.36 L1188.35,1296.44 L1193.15,1273.56 L1197.95,1285 L1202.75,1273.56 L1207.55,1290.56 L1212.35,1302.37 L1217.15,1296.23 L1221.95,1305.44 L1226.75,1293.63 L1231.55,1304.5 L1236.35,1296.8 L1241.15,1300.08 L1245.95,1296.23 L1250.75,1299.4 L1255.55,1298.57 L1260.35,1298.94 L1265.15,1299.77 L1269.95,1296.23 L1274.75,1302.37 L1279.55,1298.57 L1284.35,1300.7 L1289.15,1296.8 L1293.95,1301.17 L1298.75,1296.23 L1303.55,1300.08 L1308.35,1298 L1313.15,1297.48 L1317.95,1299.2 L1322.75,1298.83 L1327.55,1297.74 L1332.35,1298.57 L1337.15,1297.74 L1341.95,1298.73 L1346.75,1299.35 L1351.55,1299.35 L1356.35,1297.48 L1361.15,1298.52 L1365.95,1300.08 L1370.75,1296.75 L1375.55,1299.77 L1380.35,1297.17 L1385.15,1299.35 L1389.95,1295.92 L1394.75,1300.6 L1399.55,1296.75 L1404.35,1299.04 L1409.15,1295.92 L1413.95,1299.35 L1418.75,1298 L1423.55,1300.6 L1428.35,1296.13 L1433.15,1300.6 L1437.95,1297.17 L1442.75,1299.35 L1447.55,1297.17 L1452.35,1298.73 L1457.15,1298.52 L1461.95,1296.13 L1466.75,1303.2 L1471.55,1188.96 L1476.35,1306.84 L1481.15,1301.95 L1485.95,1303.2 L1490.75,1301.33 L1495.55,1302.99 L1500.35,1300.6 L1505.15,1301.33 L1509.95,1302.63 L1514.75,1301.12 L1519.55,1298 L1524.35,1305.8 L1529.15,1295.4 L1533.95,1301.95 L1538.75,1299.04 L1543.55,1303.93 L1548.35,1300.6 L1553.15,1298.73 L1557.95,1305.8 L1562.75,1296.44" fill="none" stroke="#9400d3" stroke-width="2.0" stroke-linejoin="round"/>
<g fill="#9400d3"><circle cx="1178.75" cy="1267.63" r="3.3"/><circle cx="1183.55" cy="1259.36" r="3.3"/><circle cx="1188.35" cy="1296.44" r="3.3"/><circle cx="1193.15" cy="1273.56" r="3.3"/><circle cx="1197.95" cy="1285" r="3.3"/><circle cx="1202.75" cy="1273.56" r="3.3"/><circle cx="1207.55" cy="1290.56" r="3.3"/><circle cx="1212.35" cy="1302.37" r="3.3"/><circle cx="1217.15" cy="1296.23" r="3.3"/><circle cx="1221.95" cy="1305.44" r="3.3"/><circle cx="1226.75" cy="1293.63" r="3.3"/><circle cx="1231.55" cy="1304.5" r="3.3"/><circle cx="1236.35" cy="1296.8" r="3.3"/><circle cx="1241.15" cy="1300.08" r="3.3"/><circle cx="1245.95" cy="1296.23" r="3.3"/><circle cx="1250.75" cy="1299.4" r="3.3"/><circle cx="1255.55" cy="1298.57" r="3.3"/><circle cx="1260.35" cy="1298.94" r="3.3"/><circle cx="1265.15" cy="1299.77" r="3.3"/><circle cx="1269.95" cy="1296.23" r="3.3"/><circle cx="1274.75" cy="1302.37" r="3.3"/><circle cx="1279.55" cy="1298.57" r="3.3"/><circle cx="1284.35" cy="1300.7" r="3.3"/><circle cx="1289.15" cy="1296.8" r="3.3"/><circle cx="1293.95" cy="1301.17" r="3.3"/><circle cx="1298.75" cy="1296.23" r="3.3"/><circle cx="1303.55" cy="1300.08" r="3.3"/><circle cx="1308.35" cy="1298" r="3.3"/><circle cx="1313.15" cy="1297.48" r="3.3"/><circle cx="1317.95" cy="1299.2" r="3.3"/><circle cx="1322.75" cy="1298.83" r="3.3"/><circle cx="1327.55" cy="1297.74" r="3.3"/><circle cx="1332.35" cy="1298.57" r="3.3"/><circle cx="1337.15" cy="1297.74" r="3.3"/><circle cx="1341.95" cy="1298.73" r="3.3"/><circle cx="1346.75" cy="1299.35" r="3.3"/><circle cx="1351.55" cy="1299.35" r="3.3"/><circle cx="1356.35" cy="1297.48" r="3.3"/><circle cx="1361.15" cy="1298.52" r="3.3"/><circle cx="1365.95" cy="1300.08" r="3.3"/><circle cx="1370.75" cy="1296.75" r="3.3"/><circle cx="1375.55" cy="1299.77" r="3.3"/><circle cx="1380.35" cy="1297.17" r="3.3"/><circle cx="1385.15" cy="1299.35" r="3.3"/><circle cx="1389.95" cy="1295.92" r="3.3"/><circle cx="1394.75" cy="1300.6" r="3.3"/><circle cx="1399.55" cy="1296.75" r="3.3"/><circle cx="1404.35" cy="1299.04" r="3.3"/><circle cx="1409.15" cy="1295.92" r="3.3"/><circle cx="1413.95" cy="1299.35" r="3.3"/><circle cx="1418.75" cy="1298" r="3.3"/><circle cx="1423.55" cy="1300.6" r="3.3"/><circle cx="1428.35" cy="1296.13" r="3.3"/><circle cx="1433.15" cy="1300.6" r="3.3"/><circle cx="1437.95" cy="1297.17" r="3.3"/><circle cx="1442.75" cy="1299.35" r="3.3"/><circle cx="1447.55" cy="1297.17" r="3.3"/><circle cx="1452.35" cy="1298.73" r="3.3"/><circle cx="1457.15" cy="1298.52" r="3.3"/><circle cx="1461.95" cy="1296.13" r="3.3"/><circle cx="1466.75" cy="1303.2" r="3.3"/><circle cx="1471.55" cy="1188.96" r="3.3"/><circle cx="1476.35" cy="1306.84" r="3.3"/><circle cx="1481.15" cy="1301.95" r="3.3"/><circle cx="1485.95" cy="1303.2" r="3.3"/><circle cx="1490.75" cy="1301.33" r="3.3"/><circle cx="1495.55" cy="1302.99" r="3.3"/><circle cx="1500.35" cy="1300.6" r="3.3"/><circle cx="1505.15" cy="1301.33" r="3.3"/><circle cx="1509.95" cy="1302.63" r="3.3"/><circle cx="1514.75" cy="1301.12" r="3.3"/><circle cx="1519.55" cy="1298" r="3.3"/><circle cx="1524.35" cy="1305.8" r="3.3"/><circle cx="1529.15" cy="1295.4" r="3.3"/><circle cx="1533.95" cy="1301.95" r="3.3"/><circle cx="1538.75" cy="1299.04" r="3.3"/><circle cx="1543.55" cy="1303.93" r="3.3"/><circle cx="1548.35" cy="1300.6" r="3.3"/><circle cx="1553.15" cy="1298.73" r="3.3"/><circle cx="1557.95" cy="1305.8" r="3.3"/><circle cx="1562.75" cy="1296.44" r="3.3"/></g>
</g>
<path d="M1025.15,769.04 H1697.15 V1350 H1025.15 Z" fill="none" stroke="#000" stroke-width="3.75" stroke-linejoin="miter"/>
<path d="M1025.15,1146.85 H1697.15" fill="none" stroke="#000" stroke-width="4.2"/>
<g font-family='"Liberation Sans", sans-serif' font-size="35" fill="#000" stroke="#000" stroke-width="0.3">
<text transform="translate(1003.95 1159.3) scale(1 1.05)" text-anchor="end">0</text>
<text transform="translate(1003.95 1096.33) scale(1 1.05)" text-anchor="end">10</text>
<text transform="translate(1003.95 1033.36) scale(1 1.05)" text-anchor="end">20</text>
<text transform="translate(1003.95 970.39) scale(1 1.05)" text-anchor="end">30</text>
<text transform="translate(1003.95 907.43) scale(1 1.05)" text-anchor="end">40</text>
<text transform="translate(1003.95 844.46) scale(1 1.05)" text-anchor="end">50</text>
<text transform="translate(1003.95 781.49) scale(1 1.05)" text-anchor="end">60</text>
<text transform="translate(1003.95 1362.45) scale(1 1.05)" text-anchor="end">0</text>
<text transform="translate(1003.95 1310.45) scale(1 1.05)" text-anchor="end">1</text>
<text transform="translate(1003.95 1258.45) scale(1 1.05)" text-anchor="end">2</text>
<text transform="translate(1003.95 1206.45) scale(1 1.05)" text-anchor="end">3</text>
<text transform="translate(1029.75 1397.1) scale(1 1.05)" text-anchor="middle">0</text>
<text transform="translate(1125.75 1397.1) scale(1 1.05)" text-anchor="middle">5</text>
<text transform="translate(1221.75 1397.1) scale(1 1.05)" text-anchor="middle">10</text>
<text transform="translate(1317.75 1397.1) scale(1 1.05)" text-anchor="middle">15</text>
<text transform="translate(1413.75 1397.1) scale(1 1.05)" text-anchor="middle">20</text>
<text transform="translate(1509.75 1397.1) scale(1 1.05)" text-anchor="middle">25</text>
<text transform="translate(1605.75 1397.1) scale(1 1.05)" text-anchor="middle">30</text>
<text transform="translate(1701.75 1397.1) scale(1 1.05)" text-anchor="middle">35</text>
<text x="1361.15" y="1449.15" text-anchor="middle">Energy / keV</text>
</g>
<text transform="translate(940.65,1082.94) rotate(-90)" font-family='"Liberation Sans", sans-serif' font-size="35" fill="#000" stroke="#000" stroke-width="0.3"><tspan font-family='"Liberation Serif", serif' font-style="italic" font-size="38" stroke-width="0.6">Φ</tspan><tspan font-style="italic" font-size="29" dy="9.9" dx="-0.4">E</tspan><tspan font-size="28" dx="-2.4">, norm</tspan><tspan dy="-9.9" dx="9"> / keV</tspan><tspan font-size="28" dy="-18.8" dx="0.6">-1</tspan></text>
</g>
<g id="p4">
<path d="M238.5,1902.85 V1525.04 M238.5,2106 V1902.85 M334.5,1902.85 V1525.04 M334.5,2106 V1902.85 M430.5,1902.85 V1525.04 M430.5,2106 V1902.85 M526.5,1902.85 V1525.04 M526.5,2106 V1902.85 M622.5,1902.85 V1525.04 M622.5,2106 V1902.85 M718.5,1902.85 V1525.04 M718.5,2106 V1902.85 M142.95,1808.4 H814.95 M142.95,1713.94 H814.95 M142.95,1619.49 H814.95 M142.95,2054 H814.95 M142.95,2002 H814.95 M142.95,1950 H814.95" fill="none" stroke="#3c3c3c" stroke-width="0.9" stroke-dasharray="4.1 6.39"/>
<rect x="166.95" y="1527.04" width="606.45" height="89.5" fill="#fff"/>
<rect x="324.95" y="1904.85" width="468" height="60.7" fill="#fff"/>
<path d="M238.95,1525.04 v22 M238.95,1880.85 v44 M238.95,2106 v-22 M334.95,1525.04 v22 M334.95,1880.85 v44 M334.95,2106 v-22 M430.95,1525.04 v22 M430.95,1880.85 v44 M430.95,2106 v-22 M526.95,1525.04 v22 M526.95,1880.85 v44 M526.95,2106 v-22 M622.95,1525.04 v22 M622.95,1880.85 v44 M622.95,2106 v-22 M718.95,1525.04 v22 M718.95,1880.85 v44 M718.95,2106 v-22 M142.95,1808.4 h22 M814.95,1808.4 h-22 M142.95,1713.94 h22 M814.95,1713.94 h-22 M142.95,1619.49 h22 M814.95,1619.49 h-22 M142.95,2054 h22 M814.95,2054 h-22 M142.95,2002 h22 M814.95,2002 h-22 M142.95,1950 h22 M814.95,1950 h-22" fill="none" stroke="#000" stroke-width="1.9"/>
<clipPath id="cm4"><rect x="142.95" y="1525.04" width="672" height="379.31"/></clipPath>
<g clip-path="url(#cm4)" fill="none" stroke-width="3" stroke-linejoin="miter">
<path d="M274.95,1899.83 L279.75,1899.83 L279.75,1899.83 L284.55,1899.83 L284.55,1900.39 L289.35,1900.39 L289.35,1899.83 L294.15,1899.83 L294.15,1899.83 L298.95,1899.83 L298.95,1900.9 L303.75,1900.9 L303.75,1900.13 L308.55,1900.13 L308.55,1900.85 L313.35,1900.85 L313.35,1901.02 L318.15,1901.02 L318.15,1899 L322.95,1899 L322.95,1888.13 L327.75,1888.13 L327.75,1871.25 L332.55,1871.25 L332.55,1877.61 L337.35,1877.61 L337.35,1889.27 L342.15,1889.27 L342.15,1891.95 L346.95,1891.95 L346.95,1887.98 L351.75,1887.98 L351.75,1880.33 L356.55,1880.33 L356.55,1852.28 L361.35,1852.28 L361.35,1854.58 L366.15,1854.58 L366.15,1858.27 L370.95,1858.27 L370.95,1861.65 L375.75,1861.65 L375.75,1857.4 L380.55,1857.4 L380.55,1853.11 L385.35,1853.11 L385.35,1845.59 L390.15,1845.59 L390.15,1839.64 L394.95,1839.64 L394.95,1831.99 L399.75,1831.99 L399.75,1823.91 L404.55,1823.91 L404.55,1817.88 L409.35,1817.88 L409.35,1811.5 L414.15,1811.5 L414.15,1801.77 L418.95,1801.77 L418.95,1797.93 L423.75,1797.93 L423.75,1788.73 L428.55,1788.73 L428.55,1785.2 L433.35,1785.2 L433.35,1778.47 L438.15,1778.47 L438.15,1773.98 L442.95,1773.98 L442.95,1766.35 L447.75,1766.35 L447.75,1764.51 L452.55,1764.51 L452.55,1760 L457.35,1760 L457.35,1756.9 L462.15,1756.9 L462.15,1749.14 L466.95,1749.14 L466.95,1749.67 L471.75,1749.67 L471.75,1746.12 L476.55,1746.12 L476.55,1741.09 L481.35,1741.09 L481.35,1744.93 L486.15,1744.93 L486.15,1737.65 L490.95,1737.65 L490.95,1742.53 L495.75,1742.53 L495.75,1739.01 L500.55,1739.01 L500.55,1738.03 L505.35,1738.03 L505.35,1741.2 L510.15,1741.2 L510.15,1740.83 L514.95,1740.83 L514.95,1737.31 L519.75,1737.31 L519.75,1743.3 L524.55,1743.3 L524.55,1739.47 L529.35,1739.47 L529.35,1740.35 L534.15,1740.35 L534.15,1750.31 L538.95,1750.31 L538.95,1746.27 L543.75,1746.27 L543.75,1748.12 L548.55,1748.12 L548.55,1751.54 L553.35,1751.54 L553.35,1755.15 L558.15,1755.15 L558.15,1758.3 L562.95,1758.3 L562.95,1762.06 L567.75,1762.06 L567.75,1762.46 L572.55,1762.46 L572.55,1769.2 L577.35,1769.2 L577.35,1769.62 L582.15,1769.62 L582.15,1777.74 L586.95,1777.74 L586.95,1779.63 L591.75,1779.63 L591.75,1782.59 L596.55,1782.59 L596.55,1788.94 L601.35,1788.94 L601.35,1788.52 L606.15,1788.52 L606.15,1797.21 L610.95,1797.21 L610.95,1804.39 L615.75,1804.39 L615.75,1804.39 L620.55,1804.39 L620.55,1815.86 L625.35,1815.86 L625.35,1814.69 L630.15,1814.69 L630.15,1822.92 L634.95,1822.92 L634.95,1828.25 L639.75,1828.25 L639.75,1835.94 L644.55,1835.94 L644.55,1839.4 L649.35,1839.4 L649.35,1848.56 L654.15,1848.56 L654.15,1852.88 L658.95,1852.88 L658.95,1860.91 L663.75,1860.91 L663.75,1868.83 L668.55,1868.83 L668.55,1877.25 L673.35,1877.25 L673.35,1886.42 L678.15,1886.42 L678.15,1899.32 L682.95,1899.32 L682.95,1901.34 L687.75,1901.34 L687.75,1901.53 L692.55,1901.53 L692.55,1901.72 L697.35,1901.72 L697.35,1901.72 L702.15,1901.72 L702.15,1901.91 L706.95,1901.91 L706.95,1901.91 L711.75,1901.91 L711.75,1902.09 L716.55,1902.09 L716.55,1902.28 L721.35,1902.28" stroke="#000"/>
<path d="M274.95,1899.83 L279.75,1899.83 L279.75,1899.83 L284.55,1899.83 L284.55,1900.39 L289.35,1900.39 L289.35,1899.83 L294.15,1899.83 L294.15,1899.83 L298.95,1899.83 L298.95,1898.51 L303.75,1898.51 L303.75,1898.51 L308.55,1898.51 L308.55,1899.45 L313.35,1899.45 L313.35,1897.75 L318.15,1897.75 L318.15,1899.83 L322.95,1899.83 L322.95,1882.83 L327.75,1882.83 L327.75,1869.98 L332.55,1869.98 L332.55,1875.08 L337.35,1875.08 L337.35,1889.06 L342.15,1889.06 L342.15,1888.68 L346.95,1888.68 L346.95,1886.13 L351.75,1886.13 L351.75,1875.84 L356.55,1875.84 L356.55,1849.96 L361.35,1849.96 L361.35,1849.96 L366.15,1849.96 L366.15,1858.27 L370.95,1858.27 L370.95,1857.7 L375.75,1857.7 L375.75,1856.95 L380.55,1856.95 L380.55,1848.63 L385.35,1848.63 L385.35,1844.67 L390.15,1844.67 L390.15,1837.49 L394.95,1837.49 L394.95,1831.63 L399.75,1831.63 L399.75,1823.51 L404.55,1823.51 L404.55,1816.52 L409.35,1816.52 L409.35,1808.4 L414.15,1808.4 L414.15,1804.81 L418.95,1804.81 L418.95,1793.1 L423.75,1793.1 L423.75,1792.15 L428.55,1792.15 L428.55,1781.2 L433.35,1781.2 L433.35,1777.23 L438.15,1777.23 L438.15,1772.69 L442.95,1772.69 L442.95,1769.48 L447.75,1769.48 L447.75,1762.3 L452.55,1762.3 L452.55,1759.28 L457.35,1759.28 L457.35,1754.56 L462.15,1754.56 L462.15,1752.67 L466.95,1752.67 L466.95,1748.14 L471.75,1748.14 L471.75,1744.55 L476.55,1744.55 L476.55,1747.57 L481.35,1747.57 L481.35,1743.04 L486.15,1743.04 L486.15,1740.96 L490.95,1740.96 L490.95,1739.64 L495.75,1739.64 L495.75,1743.6 L500.55,1743.6 L500.55,1740.01 L505.35,1740.01 L505.35,1739.26 L510.15,1739.26 L510.15,1740.01 L514.95,1740.01 L514.95,1743.6 L519.75,1743.6 L519.75,1739.64 L524.55,1739.64 L524.55,1746.81 L529.35,1746.81 L529.35,1743.6 L534.15,1743.6 L534.15,1747.57 L538.95,1747.57 L538.95,1748.14 L543.75,1748.14 L543.75,1753.99 L548.55,1753.99 L548.55,1750.78 L553.35,1750.78 L553.35,1759.28 L558.15,1759.28 L558.15,1760.04 L562.95,1760.04 L562.95,1761.36 L567.75,1761.36 L567.75,1767.78 L572.55,1767.78 L572.55,1767.59 L577.35,1767.59 L577.35,1774.02 L582.15,1774.02 L582.15,1777.98 L586.95,1777.98 L586.95,1779.87 L591.75,1779.87 L591.75,1788 L596.55,1788 L596.55,1788.37 L601.35,1788.37 L601.35,1798.01 L606.15,1798.01 L606.15,1796.69 L610.95,1796.69 L610.95,1805.19 L615.75,1805.19 L615.75,1807.64 L620.55,1807.64 L620.55,1814.82 L625.35,1814.82 L625.35,1818.03 L630.15,1818.03 L630.15,1823.89 L634.95,1823.89 L634.95,1829.74 L639.75,1829.74 L639.75,1835.6 L644.55,1835.6 L644.55,1844.67 L649.35,1844.67 L649.35,1847.31 L654.15,1847.31 L654.15,1856.38 L658.95,1856.38 L658.95,1862.8 L663.75,1862.8 L663.75,1868.66 L668.55,1868.66 L668.55,1879.05 L673.35,1879.05 L673.35,1887.36 L678.15,1887.36 L678.15,1899.07 L682.95,1899.07 L682.95,1902.85 L687.75,1902.85" stroke="#ff0000"/>
</g>
<g font-family='"Liberation Sans", sans-serif' font-size="35" fill="#000" stroke="#000" stroke-width="0.3">
<text x="626.4" y="1576.04" text-anchor="end">W500Al28 comp filtered</text>
<text x="626.4" y="1611.04" text-anchor="end">W500Al28 phys filtered</text>
</g>
<path d="M646.4,1564.44 H753" stroke="#000" stroke-width="3.3"/>
<path d="M646.4,1599.44 H753" stroke="#ff0000" stroke-width="3.3"/>
<g font-family='"Liberation Sans", sans-serif' font-size="35" fill="#000" stroke="#000" stroke-width="0.3"><text x="646.35" y="1954.15" text-anchor="end">ratio phys/comp</text></g>
<path d="M666.35,1942.55 H772.95" stroke="#9400d3" stroke-width="2.0"/>
<circle cx="719.65" cy="1942.55" r="3.3" fill="#9400d3"/>
<clipPath id="cr4"><rect x="142.95" y="1902.85" width="672" height="203.15"/></clipPath>
<g clip-path="url(#cr4)">
<path d="M301.35,1990.4 L306.15,2023.22 L310.95,2017.6 L315.75,1961.02 L320.55,2065.23 L325.35,2035.28 L330.15,2051.92 L334.95,2048.8 L339.75,2053.17 L344.55,2038.4 L349.35,2047.5 L354.15,2043.6 L358.95,2051.61 L363.75,2049.01 L368.55,2054 L373.35,2049.01 L378.15,2053.48 L382.95,2049.32 L387.75,2053.17 L392.55,2052.23 L397.35,2053.74 L402.15,2053.74 L406.95,2053.17 L411.75,2052.23 L416.55,2055.56 L421.35,2051.61 L426.15,2055.56 L430.95,2052.23 L435.75,2053.48 L440.55,2053.48 L445.35,2055.2 L450.15,2053.17 L454.95,2053.74 L459.75,2053.17 L464.55,2055.2 L469.35,2053.48 L474.15,2053.48 L478.95,2056.08 L483.75,2053.38 L488.55,2055.04 L493.35,2053.06 L498.15,2055.46 L502.95,2054.62 L507.75,2053.38 L512.55,2053.74 L517.35,2055.98 L522.15,2052.8 L526.95,2056.34 L531.75,2055.04 L536.55,2053.06 L541.35,2054.62 L546.15,2055.98 L550.95,2053.74 L555.75,2055.46 L560.55,2054.62 L565.35,2053.74 L570.15,2055.98 L574.95,2053.38 L579.75,2055.72 L584.55,2054.1 L589.35,2054.1 L594.15,2056.34 L598.95,2053.74 L603.75,2058.32 L608.55,2053.74 L613.35,2054.42 L618.15,2055.72 L622.95,2053.38 L627.75,2055.98 L632.55,2054.62 L637.35,2055.04 L642.15,2053.74 L646.95,2058.32 L651.75,2052.8 L656.55,2057.64 L661.35,2056.34 L666.15,2053.74 L670.95,2057.64 L675.75,2057.02 L680.55,2050.46" fill="none" stroke="#9400d3" stroke-width="2.0" stroke-linejoin="round"/>
<g fill="#9400d3"><circle cx="301.35" cy="1990.4" r="3.3"/><circle cx="306.15" cy="2023.22" r="3.3"/><circle cx="310.95" cy="2017.6" r="3.3"/><circle cx="315.75" cy="1961.02" r="3.3"/><circle cx="320.55" cy="2065.23" r="3.3"/><circle cx="325.35" cy="2035.28" r="3.3"/><circle cx="330.15" cy="2051.92" r="3.3"/><circle cx="334.95" cy="2048.8" r="3.3"/><circle cx="339.75" cy="2053.17" r="3.3"/><circle cx="344.55" cy="2038.4" r="3.3"/><circle cx="349.35" cy="2047.5" r="3.3"/><circle cx="354.15" cy="2043.6" r="3.3"/><circle cx="358.95" cy="2051.61" r="3.3"/><circle cx="363.75" cy="2049.01" r="3.3"/><circle cx="368.55" cy="2054" r="3.3"/><circle cx="373.35" cy="2049.01" r="3.3"/><circle cx="378.15" cy="2053.48" r="3.3"/><circle cx="382.95" cy="2049.32" r="3.3"/><circle cx="387.75" cy="2053.17" r="3.3"/><circle cx="392.55" cy="2052.23" r="3.3"/><circle cx="397.35" cy="2053.74" r="3.3"/><circle cx="402.15" cy="2053.74" r="3.3"/><circle cx="406.95" cy="2053.17" r="3.3"/><circle cx="411.75" cy="2052.23" r="3.3"/><circle cx="416.55" cy="2055.56" r="3.3"/><circle cx="421.35" cy="2051.61" r="3.3"/><circle cx="426.15" cy="2055.56" r="3.3"/><circle cx="430.95" cy="2052.23" r="3.3"/><circle cx="435.75" cy="2053.48" r="3.3"/><circle cx="440.55" cy="2053.48" r="3.3"/><circle cx="445.35" cy="2055.2" r="3.3"/><circle cx="450.15" cy="2053.17" r="3.3"/><circle cx="454.95" cy="2053.74" r="3.3"/><circle cx="459.75" cy="2053.17" r="3.3"/><circle cx="464.55" cy="2055.2" r="3.3"/><circle cx="469.35" cy="2053.48" r="3.3"/><circle cx="474.15" cy="2053.48" r="3.3"/><circle cx="478.95" cy="2056.08" r="3.3"/><circle cx="483.75" cy="2053.38" r="3.3"/><circle cx="488.55" cy="2055.04" r="3.3"/><circle cx="493.35" cy="2053.06" r="3.3"/><circle cx="498.15" cy="2055.46" r="3.3"/><circle cx="502.95" cy="2054.62" r="3.3"/><circle cx="507.75" cy="2053.38" r="3.3"/><circle cx="512.55" cy="2053.74" r="3.3"/><circle cx="517.35" cy="2055.98" r="3.3"/><circle cx="522.15" cy="2052.8" r="3.3"/><circle cx="526.95" cy="2056.34" r="3.3"/><circle cx="531.75" cy="2055.04" r="3.3"/><circle cx="536.55" cy="2053.06" r="3.3"/><circle cx="541.35" cy="2054.62" r="3.3"/><circle cx="546.15" cy="2055.98" r="3.3"/><circle cx="550.95" cy="2053.74" r="3.3"/><circle cx="555.75" cy="2055.46" r="3.3"/><circle cx="560.55" cy="2054.62" r="3.3"/><circle cx="565.35" cy="2053.74" r="3.3"/><circle cx="570.15" cy="2055.98" r="3.3"/><circle cx="574.95" cy="2053.38" r="3.3"/><circle cx="579.75" cy="2055.72" r="3.3"/><circle cx="584.55" cy="2054.1" r="3.3"/><circle cx="589.35" cy="2054.1" r="3.3"/><circle cx="594.15" cy="2056.34" r="3.3"/><circle cx="598.95" cy="2053.74" r="3.3"/><circle cx="603.75" cy="2058.32" r="3.3"/><circle cx="608.55" cy="2053.74" r="3.3"/><circle cx="613.35" cy="2054.42" r="3.3"/><circle cx="618.15" cy="2055.72" r="3.3"/><circle cx="622.95" cy="2053.38" r="3.3"/><circle cx="627.75" cy="2055.98" r="3.3"/><circle cx="632.55" cy="2054.62" r="3.3"/><circle cx="637.35" cy="2055.04" r="3.3"/><circle cx="642.15" cy="2053.74" r="3.3"/><circle cx="646.95" cy="2058.32" r="3.3"/><circle cx="651.75" cy="2052.8" r="3.3"/><circle cx="656.55" cy="2057.64" r="3.3"/><circle cx="661.35" cy="2056.34" r="3.3"/><circle cx="666.15" cy="2053.74" r="3.3"/><circle cx="670.95" cy="2057.64" r="3.3"/><circle cx="675.75" cy="2057.02" r="3.3"/><circle cx="680.55" cy="2050.46" r="3.3"/></g>
</g>
<path d="M142.95,1525.04 H814.95 V2106 H142.95 Z" fill="none" stroke="#000" stroke-width="3.75" stroke-linejoin="miter"/>
<path d="M142.95,1902.85 H814.95" fill="none" stroke="#000" stroke-width="4.2"/>
<g font-family='"Liberation Sans", sans-serif' font-size="35" fill="#000" stroke="#000" stroke-width="0.3">
<text transform="translate(121.75 1915.3) scale(1 1.05)" text-anchor="end">0</text>
<text transform="translate(121.75 1820.85) scale(1 1.05)" text-anchor="end">5</text>
<text transform="translate(121.75 1726.39) scale(1 1.05)" text-anchor="end">10</text>
<text transform="translate(121.75 1631.94) scale(1 1.05)" text-anchor="end">15</text>
<text transform="translate(121.75 1537.49) scale(1 1.05)" text-anchor="end">20</text>
<text transform="translate(121.75 2118.45) scale(1 1.05)" text-anchor="end">0</text>
<text transform="translate(121.75 2066.45) scale(1 1.05)" text-anchor="end">1</text>
<text transform="translate(121.75 2014.45) scale(1 1.05)" text-anchor="end">2</text>
<text transform="translate(121.75 1962.45) scale(1 1.05)" text-anchor="end">3</text>
<text transform="translate(147.55 2153.1) scale(1 1.05)" text-anchor="middle">0</text>
<text transform="translate(243.55 2153.1) scale(1 1.05)" text-anchor="middle">5</text>
<text transform="translate(339.55 2153.1) scale(1 1.05)" text-anchor="middle">10</text>
<text transform="translate(435.55 2153.1) scale(1 1.05)" text-anchor="middle">15</text>
<text transform="translate(531.55 2153.1) scale(1 1.05)" text-anchor="middle">20</text>
<text transform="translate(627.55 2153.1) scale(1 1.05)" text-anchor="middle">25</text>
<text transform="translate(723.55 2153.1) scale(1 1.05)" text-anchor="middle">30</text>
<text transform="translate(819.55 2153.1) scale(1 1.05)" text-anchor="middle">35</text>
<text x="478.95" y="2205.15" text-anchor="middle">Energy / keV</text>
</g>
<text transform="translate(58.45,1838.94) rotate(-90)" font-family='"Liberation Sans", sans-serif' font-size="35" fill="#000" stroke="#000" stroke-width="0.3"><tspan font-family='"Liberation Serif", serif' font-style="italic" font-size="38" stroke-width="0.6">Φ</tspan><tspan font-style="italic" font-size="29" dy="9.9" dx="-0.4">E</tspan><tspan font-size="28" dx="-2.4">, norm</tspan><tspan dy="-9.9" dx="9"> / keV</tspan><tspan font-size="28" dy="-18.8" dx="0.6">-1</tspan></text>
</g>
<g id="p5">
<path d="M1121.5,1902.85 V1525.04 M1121.5,2106 V1902.85 M1217.5,1902.85 V1525.04 M1217.5,2106 V1902.85 M1313.5,1902.85 V1525.04 M1313.5,2106 V1902.85 M1409.5,1902.85 V1525.04 M1409.5,2106 V1902.85 M1505.5,1902.85 V1525.04 M1505.5,2106 V1902.85 M1601.5,1902.85 V1525.04 M1601.5,2106 V1902.85 M1025.15,1808.4 H1697.15 M1025.15,1713.94 H1697.15 M1025.15,1619.49 H1697.15 M1025.15,2054 H1697.15 M1025.15,2002 H1697.15 M1025.15,1950 H1697.15" fill="none" stroke="#3c3c3c" stroke-width="0.9" stroke-dasharray="4.1 6.39"/>
<rect x="1049.15" y="1527.04" width="626.4" height="89.5" fill="#fff"/>
<rect x="1207.15" y="1904.85" width="468" height="60.7" fill="#fff"/>
<path d="M1121.15,1525.04 v22 M1121.15,1880.85 v44 M1121.15,2106 v-22 M1217.15,1525.04 v22 M1217.15,1880.85 v44 M1217.15,2106 v-22 M1313.15,1525.04 v22 M1313.15,1880.85 v44 M1313.15,2106 v-22 M1409.15,1525.04 v22 M1409.15,1880.85 v44 M1409.15,2106 v-22 M1505.15,1525.04 v22 M1505.15,1880.85 v44 M1505.15,2106 v-22 M1601.15,1525.04 v22 M1601.15,1880.85 v44 M1601.15,2106 v-22 M1025.15,1808.4 h22 M1697.15,1808.4 h-22 M1025.15,1713.94 h22 M1697.15,1713.94 h-22 M1025.15,1619.49 h22 M1697.15,1619.49 h-22 M1025.15,2054 h22 M1697.15,2054 h-22 M1025.15,2002 h22 M1697.15,2002 h-22 M1025.15,1950 h22 M1697.15,1950 h-22" fill="none" stroke="#000" stroke-width="1.9"/>
<clipPath id="cm5"><rect x="1025.15" y="1525.04" width="672" height="379.31"/></clipPath>
<g clip-path="url(#cm5)" fill="none" stroke-width="3" stroke-linejoin="miter">
<path d="M1176.35,1901.91 L1181.15,1901.91 L1181.15,1901.53 L1185.95,1901.53 L1185.95,1901.15 L1190.75,1901.15 L1190.75,1901.15 L1195.55,1901.15 L1195.55,1899.64 L1200.35,1899.64 L1200.35,1899.64 L1205.15,1899.64 L1205.15,1901.53 L1209.95,1901.53 L1209.95,1897.73 L1214.75,1897.73 L1214.75,1899.68 L1219.55,1899.68 L1219.55,1900.9 L1224.35,1900.9 L1224.35,1900.73 L1229.15,1900.73 L1229.15,1899.88 L1233.95,1899.88 L1233.95,1897.86 L1238.75,1897.86 L1238.75,1889.95 L1243.55,1889.95 L1243.55,1889.31 L1248.35,1889.31 L1248.35,1890.29 L1253.15,1890.29 L1253.15,1888.91 L1257.95,1888.91 L1257.95,1887.49 L1262.75,1887.49 L1262.75,1882.98 L1267.55,1882.98 L1267.55,1879.61 L1272.35,1879.61 L1272.35,1873.93 L1277.15,1873.93 L1277.15,1870.11 L1281.95,1870.11 L1281.95,1862.93 L1286.75,1862.93 L1286.75,1856.08 L1291.55,1856.08 L1291.55,1851.22 L1296.35,1851.22 L1296.35,1843.36 L1301.15,1843.36 L1301.15,1836.36 L1305.95,1836.36 L1305.95,1830.52 L1310.75,1830.52 L1310.75,1820.37 L1315.55,1820.37 L1315.55,1813.91 L1320.35,1813.91 L1320.35,1805.51 L1325.15,1805.51 L1325.15,1797.25 L1329.95,1797.25 L1329.95,1790.43 L1334.75,1790.43 L1334.75,1782.82 L1339.55,1782.82 L1339.55,1774.15 L1344.35,1774.15 L1344.35,1768.03 L1349.15,1768.03 L1349.15,1761.27 L1353.95,1761.27 L1353.95,1755.5 L1358.75,1755.5 L1358.75,1745.49 L1363.55,1745.49 L1363.55,1742.72 L1368.35,1742.72 L1368.35,1732.34 L1373.15,1732.34 L1373.15,1733.25 L1377.95,1733.25 L1377.95,1720.29 L1382.75,1720.29 L1382.75,1723.28 L1387.55,1723.28 L1387.55,1717.91 L1392.35,1717.91 L1392.35,1713.02 L1397.15,1713.02 L1397.15,1715.42 L1401.95,1715.42 L1401.95,1707.14 L1406.75,1707.14 L1406.75,1705.14 L1411.55,1705.14 L1411.55,1705.44 L1416.35,1705.44 L1416.35,1706.39 L1421.15,1706.39 L1421.15,1706.39 L1425.95,1706.39 L1425.95,1706.01 L1430.75,1706.01 L1430.75,1702.61 L1435.55,1702.61 L1435.55,1702.99 L1440.35,1702.99 L1440.35,1708.28 L1445.15,1708.28 L1445.15,1710.26 L1449.95,1710.26 L1449.95,1704.44 L1454.75,1704.44 L1454.75,1713.57 L1459.55,1713.57 L1459.55,1711.05 L1464.35,1711.05 L1464.35,1716.42 L1469.15,1716.42 L1469.15,1726.45 L1473.95,1726.45 L1473.95,1724.33 L1478.75,1724.33 L1478.75,1733.55 L1483.55,1733.55 L1483.55,1737.27 L1488.35,1737.27 L1488.35,1743.04 L1493.15,1743.04 L1493.15,1750.06 L1497.95,1750.06 L1497.95,1758.55 L1502.75,1758.55 L1502.75,1764.36 L1507.55,1764.36 L1507.55,1771.56 L1512.35,1771.56 L1512.35,1779.31 L1517.15,1779.31 L1517.15,1892.04 L1521.95,1892.04 L1521.95,1891.74 L1526.75,1891.74 L1526.75,1891.87 L1531.55,1891.87 L1531.55,1893.12 L1536.35,1893.12 L1536.35,1893.2 L1541.15,1893.2 L1541.15,1895.5 L1545.95,1895.5 L1545.95,1897.22 L1550.75,1897.22 L1550.75,1898.96 L1555.55,1898.96 L1555.55,1901.77 L1560.35,1901.77 L1560.35,1901.91 L1565.15,1901.91 L1565.15,1902.85 L1569.95,1902.85" stroke="#000"/>
<path d="M1176.35,1901.91 L1181.15,1901.91 L1181.15,1901.53 L1185.95,1901.53 L1185.95,1901.15 L1190.75,1901.15 L1190.75,1901.15 L1195.55,1901.15 L1195.55,1899.64 L1200.35,1899.64 L1200.35,1899.64 L1205.15,1899.64 L1205.15,1899.26 L1209.95,1899.26 L1209.95,1899.26 L1214.75,1899.26 L1214.75,1896.81 L1219.55,1896.81 L1219.55,1899.26 L1224.35,1899.26 L1224.35,1898.88 L1229.15,1898.88 L1229.15,1897.94 L1233.95,1897.94 L1233.95,1896.81 L1238.75,1896.81 L1238.75,1888.49 L1243.55,1888.49 L1243.55,1889.82 L1248.35,1889.82 L1248.35,1889.44 L1253.15,1889.44 L1253.15,1889.25 L1257.95,1889.25 L1257.95,1886.23 L1262.75,1886.23 L1262.75,1884.34 L1267.55,1884.34 L1267.55,1879.61 L1272.35,1879.61 L1272.35,1874.51 L1277.15,1874.51 L1277.15,1869.79 L1281.95,1869.79 L1281.95,1863.94 L1286.75,1863.94 L1286.75,1858.08 L1291.55,1858.08 L1291.55,1850.71 L1296.35,1850.71 L1296.35,1844.86 L1301.15,1844.86 L1301.15,1836.36 L1305.95,1836.36 L1305.95,1829.93 L1310.75,1829.93 L1310.75,1823.51 L1315.55,1823.51 L1315.55,1814.63 L1320.35,1814.63 L1320.35,1807.26 L1325.15,1807.26 L1325.15,1799.9 L1329.95,1799.9 L1329.95,1791.77 L1334.75,1791.77 L1334.75,1781.38 L1339.55,1781.38 L1339.55,1776.47 L1344.35,1776.47 L1344.35,1769.11 L1349.15,1769.11 L1349.15,1758.72 L1353.95,1758.72 L1353.95,1755.5 L1358.75,1755.5 L1358.75,1748.33 L1363.55,1748.33 L1363.55,1739.82 L1368.35,1739.82 L1368.35,1736.61 L1373.15,1736.61 L1373.15,1730.19 L1377.95,1730.19 L1377.95,1723.58 L1382.75,1723.58 L1382.75,1721.12 L1387.55,1721.12 L1387.55,1717.91 L1392.35,1717.91 L1392.35,1710.73 L1397.15,1710.73 L1397.15,1710.73 L1401.95,1710.73 L1401.95,1707.14 L1406.75,1707.14 L1406.75,1703.56 L1411.55,1703.56 L1411.55,1706.77 L1416.35,1706.77 L1416.35,1702.61 L1421.15,1702.61 L1421.15,1702.61 L1425.95,1702.61 L1425.95,1702.61 L1430.75,1702.61 L1430.75,1702.61 L1435.55,1702.61 L1435.55,1706.2 L1440.35,1706.2 L1440.35,1705.26 L1445.15,1705.26 L1445.15,1705.44 L1449.95,1705.44 L1449.95,1709.41 L1454.75,1709.41 L1454.75,1710.17 L1459.55,1710.17 L1459.55,1714.51 L1464.35,1714.51 L1464.35,1717.91 L1469.15,1717.91 L1469.15,1724.33 L1473.95,1724.33 L1473.95,1727.55 L1478.75,1727.55 L1478.75,1731.51 L1483.55,1731.51 L1483.55,1739.26 L1488.35,1739.26 L1488.35,1743.04 L1493.15,1743.04 L1493.15,1746.25 L1497.95,1746.25 L1497.95,1757.39 L1502.75,1757.39 L1502.75,1763.25 L1507.55,1763.25 L1507.55,1771.56 L1512.35,1771.56 L1512.35,1833.71 L1517.15,1833.71 L1517.15,1887.17 L1521.95,1887.17 L1521.95,1894.73 L1526.75,1894.73 L1526.75,1894.35 L1531.55,1894.35 L1531.55,1893.97 L1536.35,1893.97 L1536.35,1894.73 L1541.15,1894.73 L1541.15,1896.05 L1545.95,1896.05 L1545.95,1897.18 L1550.75,1897.18 L1550.75,1898.51 L1555.55,1898.51 L1555.55,1900.21 L1560.35,1900.21 L1560.35,1901.91 L1565.15,1901.91 L1565.15,1902.85 L1569.95,1902.85" stroke="#ff0000"/>
</g>
<g font-family='"Liberation Sans", sans-serif' font-size="35" fill="#000" stroke="#000" stroke-width="0.3">
<text x="1528.55" y="1576.04" text-anchor="end">W50Ag28 comp filtered</text>
<text x="1528.55" y="1611.04" text-anchor="end">W50Ag28 phys filtered</text>
</g>
<path d="M1548.55,1564.44 H1655.15" stroke="#000" stroke-width="3.3"/>
<path d="M1548.55,1599.44 H1655.15" stroke="#ff0000" stroke-width="3.3"/>
<g font-family='"Liberation Sans", sans-serif' font-size="35" fill="#000" stroke="#000" stroke-width="0.3"><text x="1529.05" y="1954.15" text-anchor="end">ratio phys/comp</text></g>
<path d="M1549.05,1942.55 H1655.65" stroke="#9400d3" stroke-width="2.0"/>
<circle cx="1602.35" cy="1942.55" r="3.3" fill="#9400d3"/>
<clipPath id="cr5"><rect x="1025.15" y="1902.85" width="672" height="203.15"/></clipPath>
<g clip-path="url(#cr5)">
<path d="M1207.55,1964.25 L1212.35,2069.6 L1217.15,2006.68 L1221.95,2010.32 L1226.75,2008.76 L1231.55,2019.68 L1236.35,2042.87 L1241.15,2048.12 L1245.95,2055.98 L1250.75,2050.46 L1255.55,2055.3 L1260.35,2049.68 L1265.15,2057.54 L1269.95,2054 L1274.75,2055.04 L1279.55,2053.48 L1284.35,2055.3 L1289.15,2056.24 L1293.95,2053.48 L1298.75,2055.3 L1303.55,2054 L1308.35,2053.58 L1313.15,2055.98 L1317.95,2054.42 L1322.75,2054.94 L1327.55,2055.3 L1332.35,2054.62 L1337.15,2053.38 L1341.95,2054.94 L1346.75,2054.42 L1351.55,2053.06 L1356.35,2054 L1361.15,2054.94 L1365.95,2053.06 L1370.75,2055.3 L1375.55,2053.06 L1380.35,2054.94 L1385.15,2053.38 L1389.95,2054 L1394.75,2053.38 L1399.55,2052.7 L1404.35,2054 L1409.15,2053.58 L1413.95,2054.62 L1418.75,2053.06 L1423.55,2055.3 L1428.35,2053.06 L1433.15,2054.62 L1437.95,2054.42 L1442.75,2054.94 L1447.55,2052.7 L1452.35,2055.3 L1457.15,2053.06 L1461.95,2054.94 L1466.75,2054.42 L1471.55,2053.38 L1476.35,2054.94 L1481.15,2053.38 L1485.95,2054.62 L1490.75,2054 L1495.55,2052.7 L1500.35,2053.58 L1505.15,2053.58 L1509.95,2054 L1514.75,2077.76 L1519.55,2030.5 L1524.35,2067.99 L1529.15,2065.75 L1533.95,2058.58 L1538.75,2062.22 L1543.55,2057.9 L1548.35,2053.58 L1553.15,2047.86 L1557.95,1978.6" fill="none" stroke="#9400d3" stroke-width="2.0" stroke-linejoin="round"/>
<g fill="#9400d3"><circle cx="1207.55" cy="1964.25" r="3.3"/><circle cx="1212.35" cy="2069.6" r="3.3"/><circle cx="1217.15" cy="2006.68" r="3.3"/><circle cx="1221.95" cy="2010.32" r="3.3"/><circle cx="1226.75" cy="2008.76" r="3.3"/><circle cx="1231.55" cy="2019.68" r="3.3"/><circle cx="1236.35" cy="2042.87" r="3.3"/><circle cx="1241.15" cy="2048.12" r="3.3"/><circle cx="1245.95" cy="2055.98" r="3.3"/><circle cx="1250.75" cy="2050.46" r="3.3"/><circle cx="1255.55" cy="2055.3" r="3.3"/><circle cx="1260.35" cy="2049.68" r="3.3"/><circle cx="1265.15" cy="2057.54" r="3.3"/><circle cx="1269.95" cy="2054" r="3.3"/><circle cx="1274.75" cy="2055.04" r="3.3"/><circle cx="1279.55" cy="2053.48" r="3.3"/><circle cx="1284.35" cy="2055.3" r="3.3"/><circle cx="1289.15" cy="2056.24" r="3.3"/><circle cx="1293.95" cy="2053.48" r="3.3"/><circle cx="1298.75" cy="2055.3" r="3.3"/><circle cx="1303.55" cy="2054" r="3.3"/><circle cx="1308.35" cy="2053.58" r="3.3"/><circle cx="1313.15" cy="2055.98" r="3.3"/><circle cx="1317.95" cy="2054.42" r="3.3"/><circle cx="1322.75" cy="2054.94" r="3.3"/><circle cx="1327.55" cy="2055.3" r="3.3"/><circle cx="1332.35" cy="2054.62" r="3.3"/><circle cx="1337.15" cy="2053.38" r="3.3"/><circle cx="1341.95" cy="2054.94" r="3.3"/><circle cx="1346.75" cy="2054.42" r="3.3"/><circle cx="1351.55" cy="2053.06" r="3.3"/><circle cx="1356.35" cy="2054" r="3.3"/><circle cx="1361.15" cy="2054.94" r="3.3"/><circle cx="1365.95" cy="2053.06" r="3.3"/><circle cx="1370.75" cy="2055.3" r="3.3"/><circle cx="1375.55" cy="2053.06" r="3.3"/><circle cx="1380.35" cy="2054.94" r="3.3"/><circle cx="1385.15" cy="2053.38" r="3.3"/><circle cx="1389.95" cy="2054" r="3.3"/><circle cx="1394.75" cy="2053.38" r="3.3"/><circle cx="1399.55" cy="2052.7" r="3.3"/><circle cx="1404.35" cy="2054" r="3.3"/><circle cx="1409.15" cy="2053.58" r="3.3"/><circle cx="1413.95" cy="2054.62" r="3.3"/><circle cx="1418.75" cy="2053.06" r="3.3"/><circle cx="1423.55" cy="2055.3" r="3.3"/><circle cx="1428.35" cy="2053.06" r="3.3"/><circle cx="1433.15" cy="2054.62" r="3.3"/><circle cx="1437.95" cy="2054.42" r="3.3"/><circle cx="1442.75" cy="2054.94" r="3.3"/><circle cx="1447.55" cy="2052.7" r="3.3"/><circle cx="1452.35" cy="2055.3" r="3.3"/><circle cx="1457.15" cy="2053.06" r="3.3"/><circle cx="1461.95" cy="2054.94" r="3.3"/><circle cx="1466.75" cy="2054.42" r="3.3"/><circle cx="1471.55" cy="2053.38" r="3.3"/><circle cx="1476.35" cy="2054.94" r="3.3"/><circle cx="1481.15" cy="2053.38" r="3.3"/><circle cx="1485.95" cy="2054.62" r="3.3"/><circle cx="1490.75" cy="2054" r="3.3"/><circle cx="1495.55" cy="2052.7" r="3.3"/><circle cx="1500.35" cy="2053.58" r="3.3"/><circle cx="1505.15" cy="2053.58" r="3.3"/><circle cx="1509.95" cy="2054" r="3.3"/><circle cx="1514.75" cy="2077.76" r="3.3"/><circle cx="1519.55" cy="2030.5" r="3.3"/><circle cx="1524.35" cy="2067.99" r="3.3"/><circle cx="1529.15" cy="2065.75" r="3.3"/><circle cx="1533.95" cy="2058.58" r="3.3"/><circle cx="1538.75" cy="2062.22" r="3.3"/><circle cx="1543.55" cy="2057.9" r="3.3"/><circle cx="1548.35" cy="2053.58" r="3.3"/><circle cx="1553.15" cy="2047.86" r="3.3"/><circle cx="1557.95" cy="1978.6" r="3.3"/></g>
</g>
<path d="M1025.15,1525.04 H1697.15 V2106 H1025.15 Z" fill="none" stroke="#000" stroke-width="3.75" stroke-linejoin="miter"/>
<path d="M1025.15,1902.85 H1697.15" fill="none" stroke="#000" stroke-width="4.2"/>
<g font-family='"Liberation Sans", sans-serif' font-size="35" fill="#000" stroke="#000" stroke-width="0.3">
<text transform="translate(1003.95 1915.3) scale(1 1.05)" text-anchor="end">0</text>
<text transform="translate(1003.95 1820.85) scale(1 1.05)" text-anchor="end">5</text>
<text transform="translate(1003.95 1726.39) scale(1 1.05)" text-anchor="end">10</text>
<text transform="translate(1003.95 1631.94) scale(1 1.05)" text-anchor="end">15</text>
<text transform="translate(1003.95 1537.49) scale(1 1.05)" text-anchor="end">20</text>
<text transform="translate(1003.95 2118.45) scale(1 1.05)" text-anchor="end">0</text>
<text transform="translate(1003.95 2066.45) scale(1 1.05)" text-anchor="end">1</text>
<text transform="translate(1003.95 2014.45) scale(1 1.05)" text-anchor="end">2</text>
<text transform="translate(1003.95 1962.45) scale(1 1.05)" text-anchor="end">3</text>
<text transform="translate(1029.75 2153.1) scale(1 1.05)" text-anchor="middle">0</text>
<text transform="translate(1125.75 2153.1) scale(1 1.05)" text-anchor="middle">5</text>
<text transform="translate(1221.75 2153.1) scale(1 1.05)" text-anchor="middle">10</text>
<text transform="translate(1317.75 2153.1) scale(1 1.05)" text-anchor="middle">15</text>
<text transform="translate(1413.75 2153.1) scale(1 1.05)" text-anchor="middle">20</text>
<text transform="translate(1509.75 2153.1) scale(1 1.05)" text-anchor="middle">25</text>
<text transform="translate(1605.75 2153.1) scale(1 1.05)" text-anchor="middle">30</text>
<text transform="translate(1701.75 2153.1) scale(1 1.05)" text-anchor="middle">35</text>
<text x="1361.15" y="2205.15" text-anchor="middle">Energy / keV</text>
</g>
<text transform="translate(940.65,1838.94) rotate(-90)" font-family='"Liberation Sans", sans-serif' font-size="35" fill="#000" stroke="#000" stroke-width="0.3"><tspan font-family='"Liberation Serif", serif' font-style="italic" font-size="38" stroke-width="0.6">Φ</tspan><tspan font-style="italic" font-size="29" dy="9.9" dx="-0.4">E</tspan><tspan font-size="28" dx="-2.4">, norm</tspan><tspan dy="-9.9" dx="9"> / keV</tspan><tspan font-size="28" dy="-18.8" dx="0.6">-1</tspan></text>
</g>
</svg>
</body>
</html>
